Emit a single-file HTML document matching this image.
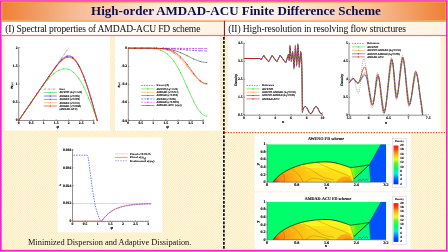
<!DOCTYPE html>
<html><head><meta charset="utf-8"><title>High-order AMDAD-ACU Finite Difference Scheme</title>
<style>
html,body{margin:0;padding:0}
body{width:448px;height:252px;overflow:hidden;position:relative;background:#f224d2;font-family:"Liberation Serif",serif}
.a{position:absolute}
#title{left:0;top:2.2px;width:448px;text-align:center;font-weight:bold;font-size:13px;line-height:17px;color:#0b0f52;white-space:nowrap;text-indent:24px}
.lab{top:21.6px;height:13.6px;font-size:9.6px;letter-spacing:-0.17px;line-height:13.6px;color:#111;white-space:nowrap}
#lab1{left:5.2px;letter-spacing:-0.15px}
#lab2{left:228.2px;letter-spacing:-0.12px}
#cap{left:28px;top:236.6px;font-size:8.36px;line-height:11px;color:#111;white-space:nowrap}
svg{position:absolute;left:0;top:0}
svg text{text-rendering:geometricPrecision}
</style></head><body>
<svg width="448" height="252" viewBox="0 0 448 252">
<defs>
<pattern id="chk" width="2.34" height="2.34" patternUnits="userSpaceOnUse"><rect width="2.34" height="2.34" fill="#fffffa"/><rect width="1.17" height="1.17" fill="#fbe4a2"/><rect x="1.17" y="1.17" width="1.17" height="1.17" fill="#fbe4a2"/></pattern>
<linearGradient id="hg" x1="0" y1="0" x2="1" y2="0"><stop offset="0" stop-color="#ee7f34"/><stop offset="0.16" stop-color="#f7b892"/><stop offset="0.36" stop-color="#fdece2"/><stop offset="0.5" stop-color="#fef7f2"/><stop offset="0.62" stop-color="#fdeee4"/><stop offset="0.82" stop-color="#f8c4a2"/><stop offset="1" stop-color="#ee7f34"/></linearGradient>
<linearGradient id="lg" x1="0" y1="0" x2="1" y2="0"><stop offset="0" stop-color="#fff"/><stop offset="0.4" stop-color="#fff"/><stop offset="1" stop-color="#fef2e2"/></linearGradient>
</defs>
<rect width="448" height="252" fill="#f224d2"/>
<rect x="0" y="0" width="448" height="0.9" fill="#f25ab8"/>
<rect x="0" y="251.2" width="448" height="0.8" fill="#f78ae6"/>
<rect x="447.3" y="0" width="0.7" height="252" fill="#f9a4ee"/>
<rect x="1.8" y="1.9" width="444.1" height="247.7" fill="#fef5da"/>
<rect x="1.8" y="1.9" width="444.1" height="247.7" fill="url(#chk)" opacity="0.9"/>
<rect x="1.8" y="1.9" width="444.1" height="18.9" fill="url(#hg)"/>
<path d="M2.2,20.4V2.3H445.5V20.4" fill="none" stroke="#f0a62a" stroke-width="0.8"/>
<rect x="1.8" y="19.9" width="444.1" height="0.7" fill="#f2b070"/>
<rect x="1.8" y="21.2" width="222.6" height="14.2" fill="url(#lg)"/>
<rect x="224.4" y="21.2" width="221.5" height="14.2" fill="url(#lg)"/>
<rect x="1.8" y="20.9" width="444.1" height="0.7" fill="#ec7848"/>
<rect x="1.8" y="34.9" width="444.1" height="1.5" fill="#f8726a"/>
<rect x="1.8" y="36.4" width="444.1" height="0.9" fill="#fff" opacity="0.8"/>
<rect x="223.9" y="20.8" width="1.1" height="15.6" fill="#ac1010"/>
<rect x="4.9" y="36.4" width="104.9" height="94.2" fill="#fff"/>
<rect x="115" y="36.4" width="105" height="94.2" fill="#fff"/>
<rect x="57.6" y="137.6" width="104.7" height="94.8" fill="#fff"/>
<rect x="228.2" y="36.4" width="212.3" height="95.6" fill="#fff"/>
<rect x="254.5" y="133.4" width="156.2" height="57.9" fill="#fff"/>
<rect x="254.5" y="192.3" width="156.2" height="56.3" fill="#fff"/>
<line x1="223.9" y1="37" x2="223.9" y2="249.6" stroke="#0c0c26" stroke-width="1.7" stroke-dasharray="2.7 1.4"/>
<line x1="225.2" y1="132.7" x2="445" y2="132.7" stroke="#e2504a" stroke-width="1.3" stroke-dasharray="1.3 1.4"/>

<line x1="18.70" y1="47.20" x2="18.70" y2="120.50" stroke="#444" stroke-width="0.6" />
<line x1="18.70" y1="120.50" x2="94.45" y2="120.50" stroke="#444" stroke-width="0.6" />
<line x1="18.70" y1="120.50" x2="19.90" y2="120.50" stroke="#444" stroke-width="0.5" />
<text x="17.50" y="121.40" stroke="#000" stroke-width="0.12" font-size="3.73" text-anchor="end" font-weight="bold" fill="#000" font-family='"Liberation Serif",serif' >0</text>
<line x1="18.70" y1="102.30" x2="19.90" y2="102.30" stroke="#444" stroke-width="0.5" />
<text x="17.50" y="103.20" stroke="#000" stroke-width="0.12" font-size="3.73" text-anchor="end" font-weight="bold" fill="#000" font-family='"Liberation Serif",serif' >0.5</text>
<line x1="18.70" y1="84.10" x2="19.90" y2="84.10" stroke="#444" stroke-width="0.5" />
<text x="17.50" y="85.00" stroke="#000" stroke-width="0.12" font-size="3.73" text-anchor="end" font-weight="bold" fill="#000" font-family='"Liberation Serif",serif' >1</text>
<line x1="18.70" y1="65.90" x2="19.90" y2="65.90" stroke="#444" stroke-width="0.5" />
<text x="17.50" y="66.80" stroke="#000" stroke-width="0.12" font-size="3.73" text-anchor="end" font-weight="bold" fill="#000" font-family='"Liberation Serif",serif' >1.5</text>
<line x1="18.70" y1="47.70" x2="19.90" y2="47.70" stroke="#444" stroke-width="0.5" />
<text x="17.50" y="48.60" stroke="#000" stroke-width="0.12" font-size="3.73" text-anchor="end" font-weight="bold" fill="#000" font-family='"Liberation Serif",serif' >2</text>
<line x1="18.70" y1="120.50" x2="18.70" y2="119.30" stroke="#444" stroke-width="0.5" />
<text x="18.70" y="124.10" stroke="#000" stroke-width="0.12" font-size="3.73" text-anchor="middle" font-weight="bold" fill="#000" font-family='"Liberation Serif",serif' >0</text>
<line x1="31.20" y1="120.50" x2="31.20" y2="119.30" stroke="#444" stroke-width="0.5" />
<text x="31.20" y="124.10" stroke="#000" stroke-width="0.12" font-size="3.73" text-anchor="middle" font-weight="bold" fill="#000" font-family='"Liberation Serif",serif' >0.5</text>
<line x1="43.70" y1="120.50" x2="43.70" y2="119.30" stroke="#444" stroke-width="0.5" />
<text x="43.70" y="124.10" stroke="#000" stroke-width="0.12" font-size="3.73" text-anchor="middle" font-weight="bold" fill="#000" font-family='"Liberation Serif",serif' >1</text>
<line x1="56.20" y1="120.50" x2="56.20" y2="119.30" stroke="#444" stroke-width="0.5" />
<text x="56.20" y="124.10" stroke="#000" stroke-width="0.12" font-size="3.73" text-anchor="middle" font-weight="bold" fill="#000" font-family='"Liberation Serif",serif' >1.5</text>
<line x1="68.70" y1="120.50" x2="68.70" y2="119.30" stroke="#444" stroke-width="0.5" />
<text x="68.70" y="124.10" stroke="#000" stroke-width="0.12" font-size="3.73" text-anchor="middle" font-weight="bold" fill="#000" font-family='"Liberation Serif",serif' >2</text>
<line x1="81.20" y1="120.50" x2="81.20" y2="119.30" stroke="#444" stroke-width="0.5" />
<text x="81.20" y="124.10" stroke="#000" stroke-width="0.12" font-size="3.73" text-anchor="middle" font-weight="bold" fill="#000" font-family='"Liberation Serif",serif' >2.5</text>
<line x1="93.70" y1="120.50" x2="93.70" y2="119.30" stroke="#444" stroke-width="0.5" />
<text x="93.70" y="124.10" stroke="#000" stroke-width="0.12" font-size="3.73" text-anchor="middle" font-weight="bold" fill="#000" font-family='"Liberation Serif",serif' >3</text>
<text x="57.80" y="127.60" stroke="#000" stroke-width="0.12" font-size="4.42" text-anchor="middle" font-weight="bold" fill="#000" font-family='"Liberation Serif",serif' font-style="italic">φ</text>
<text x="13.20" y="85.50" stroke="#000" stroke-width="0.02" font-size="3.0" text-anchor="middle" font-weight="bold" fill="#000" font-family='"Liberation Serif",serif' transform="rotate(-90 13.2 85.5)">ℜ(φ)</text>
<path d="M18.70,120.50 L68.70,47.70" fill="none" stroke="#333" stroke-width="0.48" stroke-dasharray="2.2 0.8 0.6 0.8"/>
<path d="M18.70,120.50 L19.69,119.06 L20.69,117.62 L21.68,116.18 L22.68,114.73 L23.67,113.29 L24.67,111.84 L25.66,110.39 L26.65,108.94 L27.65,107.48 L28.64,106.03 L29.64,104.57 L30.63,103.11 L31.62,101.66 L32.62,100.20 L33.61,98.75 L34.61,97.31 L35.60,95.87 L36.60,94.44 L37.59,93.02 L38.58,91.62 L39.58,90.23 L40.57,88.86 L41.57,87.51 L42.56,86.19 L43.55,84.89 L44.55,83.62 L45.54,82.39 L46.54,81.19 L47.53,80.03 L48.53,78.91 L49.52,77.83 L50.51,76.80 L51.51,75.82 L52.50,74.89 L53.50,74.02 L54.49,73.21 L55.48,72.45 L56.48,71.76 L57.47,71.13 L58.47,70.58 L59.46,70.09 L60.46,69.68 L61.45,69.34 L62.44,69.09 L63.44,68.91 L64.43,68.82 L65.43,68.82 L66.42,68.91 L67.41,69.09 L68.41,69.37 L69.40,69.75 L70.40,70.22 L71.39,70.80 L72.39,71.48 L73.38,72.28 L74.37,73.17 L75.37,74.18 L76.36,75.30 L77.36,76.53 L78.35,77.88 L79.34,79.33 L80.34,80.89 L81.33,82.56 L82.33,84.34 L83.32,86.22 L84.32,88.19 L85.31,90.27 L86.30,92.44 L87.30,94.69 L88.29,97.03 L89.29,99.44 L90.28,101.92 L91.27,104.46 L92.27,107.05 L93.26,109.68 L94.26,112.36 L95.25,115.05 L96.25,117.77 L97.24,120.50" fill="none" stroke="#22dd22" stroke-width="0.64" />
<circle cx="23.70" cy="113.25" r="0.5" fill="#22dd22"/>
<circle cx="28.70" cy="105.94" r="0.5" fill="#22dd22"/>
<circle cx="33.70" cy="98.63" r="0.5" fill="#22dd22"/>
<circle cx="38.70" cy="91.45" r="0.5" fill="#22dd22"/>
<circle cx="43.70" cy="84.70" r="0.5" fill="#22dd22"/>
<circle cx="48.70" cy="78.71" r="0.5" fill="#22dd22"/>
<circle cx="53.70" cy="73.85" r="0.5" fill="#22dd22"/>
<circle cx="58.70" cy="70.46" r="0.5" fill="#22dd22"/>
<circle cx="63.70" cy="68.88" r="0.5" fill="#22dd22"/>
<circle cx="68.70" cy="69.47" r="0.5" fill="#22dd22"/>
<circle cx="73.70" cy="72.55" r="0.5" fill="#22dd22"/>
<circle cx="78.70" cy="78.37" r="0.5" fill="#22dd22"/>
<circle cx="83.70" cy="86.96" r="0.5" fill="#22dd22"/>
<circle cx="88.70" cy="98.01" r="0.5" fill="#22dd22"/>
<circle cx="93.70" cy="110.85" r="0.5" fill="#22dd22"/>
<path d="M18.70,120.50 L19.69,119.05 L20.69,117.61 L21.68,116.16 L22.68,114.71 L23.67,113.26 L24.67,111.82 L25.66,110.37 L26.65,108.92 L27.65,107.47 L28.64,106.02 L29.64,104.58 L30.63,103.13 L31.62,101.68 L32.62,100.23 L33.61,98.79 L34.61,97.34 L35.60,95.89 L36.60,94.44 L37.59,93.00 L38.58,91.55 L39.58,90.10 L40.57,88.66 L41.57,87.21 L42.56,85.76 L43.55,84.30 L44.55,82.85 L45.54,81.40 L46.54,79.94 L47.53,78.49 L48.53,77.04 L49.52,75.59 L50.51,74.14 L51.51,72.70 L52.50,71.28 L53.50,69.86 L54.49,68.47 L55.48,67.10 L56.48,65.77 L57.47,64.47 L58.47,63.22 L59.46,62.04 L60.46,60.92 L61.45,59.88 L62.44,58.93 L63.44,58.09 L64.43,57.37 L65.43,56.78 L66.42,56.33 L67.41,56.03 L68.41,55.90 L69.40,55.93 L70.40,56.15 L71.39,56.54 L72.39,57.12 L73.38,57.89 L74.37,58.85 L75.37,59.99 L76.36,61.32 L77.36,62.83 L78.35,64.51 L79.34,66.37 L80.34,68.39 L81.33,70.57 L82.33,72.90 L83.32,75.38 L84.32,78.00 L85.31,80.74 L86.30,83.61 L87.30,86.59 L88.29,89.68 L89.29,92.86 L90.28,96.13 L91.27,99.47 L92.27,102.87 L93.26,106.33 L94.26,109.84 L95.25,113.37 L96.25,116.93 L97.24,120.50" fill="none" stroke="#2222ee" stroke-width="0.72" />
<circle cx="56.20" cy="66.14" r="0.6" fill="#2222ee"/>
<circle cx="61.70" cy="59.63" r="0.6" fill="#2222ee"/>
<circle cx="67.20" cy="56.08" r="0.6" fill="#2222ee"/>
<circle cx="72.70" cy="57.35" r="0.6" fill="#2222ee"/>
<circle cx="78.20" cy="64.25" r="0.6" fill="#2222ee"/>
<circle cx="83.70" cy="76.36" r="0.6" fill="#2222ee"/>
<path d="M18.70,120.86 L19.69,119.42 L20.69,117.97 L21.68,116.52 L22.68,115.08 L23.67,113.63 L24.67,112.18 L25.66,110.73 L26.65,109.28 L27.65,107.84 L28.64,106.39 L29.64,104.94 L30.63,103.49 L31.62,102.04 L32.62,100.60 L33.61,99.15 L34.61,97.70 L35.60,96.26 L36.60,94.81 L37.59,93.36 L38.58,91.92 L39.58,90.47 L40.57,89.02 L41.57,87.57 L42.56,86.12 L43.55,84.68 L44.55,83.23 L45.54,81.78 L46.54,80.33 L47.53,78.88 L48.53,77.44 L49.52,76.01 L50.51,74.58 L51.51,73.17 L52.50,71.78 L53.50,70.40 L54.49,69.06 L55.48,67.74 L56.48,66.47 L57.47,65.24 L58.47,64.07 L59.46,62.96 L60.46,61.92 L61.45,60.96 L62.44,60.10 L63.44,59.33 L64.43,58.68 L65.43,58.15 L66.42,57.74 L67.41,57.47 L68.41,57.35 L69.40,57.39 L70.40,57.58 L71.39,57.94 L72.39,58.47 L73.38,59.18 L74.37,60.06 L75.37,61.13 L76.36,62.37 L77.36,63.80 L78.35,65.40 L79.34,67.18 L80.34,69.13 L81.33,71.24 L82.33,73.52 L83.32,75.94 L84.32,78.52 L85.31,81.23 L86.30,84.07 L87.30,87.03 L88.29,90.10 L89.29,93.26 L90.28,96.52 L91.27,99.85 L92.27,103.25 L93.26,106.71 L94.26,110.21 L95.25,113.74 L96.25,117.30 L97.24,120.86" fill="none" stroke="#ff9922" stroke-width="0.64" />
<path d="M18.70,120.50 L19.69,119.05 L20.69,117.61 L21.68,116.16 L22.68,114.71 L23.67,113.26 L24.67,111.82 L25.66,110.37 L26.65,108.92 L27.65,107.47 L28.64,106.02 L29.64,104.58 L30.63,103.13 L31.62,101.68 L32.62,100.23 L33.61,98.79 L34.61,97.34 L35.60,95.89 L36.60,94.45 L37.59,93.00 L38.58,91.55 L39.58,90.10 L40.57,88.66 L41.57,87.21 L42.56,85.76 L43.55,84.31 L44.55,82.86 L45.54,81.41 L46.54,79.97 L47.53,78.52 L48.53,77.08 L49.52,75.65 L50.51,74.22 L51.51,72.81 L52.50,71.41 L53.50,70.04 L54.49,68.69 L55.48,67.38 L56.48,66.10 L57.47,64.87 L58.47,63.70 L59.46,62.59 L60.46,61.55 L61.45,60.60 L62.44,59.73 L63.44,58.97 L64.43,58.32 L65.43,57.78 L66.42,57.38 L67.41,57.11 L68.41,56.99 L69.40,57.02 L70.40,57.21 L71.39,57.57 L72.39,58.11 L73.38,58.81 L74.37,59.70 L75.37,60.76 L76.36,62.01 L77.36,63.43 L78.35,65.04 L79.34,66.81 L80.34,68.76 L81.33,70.88 L82.33,73.15 L83.32,75.58 L84.32,78.15 L85.31,80.87 L86.30,83.71 L87.30,86.66 L88.29,89.73 L89.29,92.90 L90.28,96.15 L91.27,99.49 L92.27,102.89 L93.26,106.34 L94.26,109.84 L95.25,113.38 L96.25,116.93 L97.24,120.50" fill="none" stroke="#dd1111" stroke-width="0.64" />
<circle cx="18.70" cy="120.50" r="0.55" fill="#cc1111"/>
<circle cx="24.74" cy="111.71" r="0.55" fill="#cc1111"/>
<circle cx="30.78" cy="102.91" r="0.55" fill="#cc1111"/>
<circle cx="36.82" cy="94.12" r="0.55" fill="#cc1111"/>
<circle cx="42.85" cy="85.33" r="0.55" fill="#cc1111"/>
<circle cx="48.89" cy="76.55" r="0.55" fill="#cc1111"/>
<circle cx="54.93" cy="68.10" r="0.55" fill="#cc1111"/>
<circle cx="60.97" cy="61.05" r="0.55" fill="#cc1111"/>
<circle cx="67.01" cy="57.20" r="0.55" fill="#cc1111"/>
<circle cx="73.05" cy="58.56" r="0.55" fill="#cc1111"/>
<circle cx="79.08" cy="66.33" r="0.55" fill="#cc1111"/>
<circle cx="85.12" cy="80.35" r="0.55" fill="#cc1111"/>
<circle cx="91.16" cy="99.10" r="0.55" fill="#cc1111"/>
<circle cx="97.20" cy="120.36" r="0.55" fill="#cc1111"/>
<line x1="43.75" y1="89.10" x2="56.90" y2="89.10" stroke="#555" stroke-width="0.55" stroke-dasharray="2.2 0.8 0.6 0.8"/>
<text x="59.40" y="90.00" stroke="#000" stroke-width="0.05" font-size="2.85" text-anchor="start" font-weight="bold" fill="#000" font-family='"Liberation Serif",serif'  textLength="5.6" lengthAdjust="spacingAndGlyphs">Exact</text>
<line x1="43.75" y1="92.50" x2="56.90" y2="92.50" stroke="#22dd22" stroke-width="0.55" />
<circle cx="50.30" cy="92.50" r="0.6" fill="#22dd22"/>
<text x="59.40" y="93.40" stroke="#000" stroke-width="0.05" font-size="2.85" text-anchor="start" font-weight="bold" fill="#000" font-family='"Liberation Serif",serif'  textLength="22.8" lengthAdjust="spacingAndGlyphs">AWENO (kq=1.528)</text>
<line x1="43.75" y1="96.00" x2="56.90" y2="96.00" stroke="#2222ee" stroke-width="0.55" />
<circle cx="50.30" cy="96.00" r="0.6" fill="#2222ee"/>
<text x="59.40" y="96.90" stroke="#000" stroke-width="0.05" font-size="2.85" text-anchor="start" font-weight="bold" fill="#000" font-family='"Liberation Serif",serif'  textLength="20.6" lengthAdjust="spacingAndGlyphs">AMDAD (ε=0.005)</text>
<line x1="43.75" y1="99.40" x2="56.90" y2="99.40" stroke="#555" stroke-width="0.55" />
<circle cx="50.30" cy="99.40" r="0.6" fill="#555"/>
<text x="59.40" y="100.30" stroke="#000" stroke-width="0.05" font-size="2.85" text-anchor="start" font-weight="bold" fill="#000" font-family='"Liberation Serif",serif'  textLength="20.6" lengthAdjust="spacingAndGlyphs">AMDAD (ε=0.008)</text>
<line x1="43.75" y1="102.70" x2="56.90" y2="102.70" stroke="#ff9922" stroke-width="0.55" />
<circle cx="50.30" cy="102.70" r="0.6" fill="#ff9922"/>
<text x="59.40" y="103.60" stroke="#000" stroke-width="0.05" font-size="2.85" text-anchor="start" font-weight="bold" fill="#000" font-family='"Liberation Serif",serif'  textLength="20.6" lengthAdjust="spacingAndGlyphs">AMDAD (ε=0.012)</text>
<line x1="43.75" y1="106.00" x2="56.90" y2="106.00" stroke="#dd1111" stroke-width="0.55" />
<circle cx="50.30" cy="106.00" r="0.6" fill="#dd1111"/>
<text x="59.40" y="106.90" stroke="#000" stroke-width="0.05" font-size="2.85" text-anchor="start" font-weight="bold" fill="#000" font-family='"Liberation Serif",serif'  textLength="21.8" lengthAdjust="spacingAndGlyphs">AMDAD (ε=0.0048)</text>
<text x="59.40" y="110.00" stroke="#000" stroke-width="0.05" font-size="2.85" text-anchor="start" font-weight="bold" fill="#000" font-family='"Liberation Serif",serif'  textLength="18" lengthAdjust="spacingAndGlyphs">(AMDAD-ACU)</text>
<line x1="128.30" y1="47.50" x2="128.30" y2="120.50" stroke="#444" stroke-width="0.6" />
<line x1="128.30" y1="120.50" x2="204.05" y2="120.50" stroke="#444" stroke-width="0.6" />
<line x1="128.30" y1="48.20" x2="129.50" y2="48.20" stroke="#444" stroke-width="0.5" />
<text x="127.10" y="49.10" stroke="#000" stroke-width="0.12" font-size="3.73" text-anchor="end" font-weight="bold" fill="#000" font-family='"Liberation Serif",serif' >0</text>
<line x1="128.30" y1="66.30" x2="129.50" y2="66.30" stroke="#444" stroke-width="0.5" />
<text x="127.10" y="67.20" stroke="#000" stroke-width="0.12" font-size="3.73" text-anchor="end" font-weight="bold" fill="#000" font-family='"Liberation Serif",serif' >-0.2</text>
<line x1="128.30" y1="84.40" x2="129.50" y2="84.40" stroke="#444" stroke-width="0.5" />
<text x="127.10" y="85.30" stroke="#000" stroke-width="0.12" font-size="3.73" text-anchor="end" font-weight="bold" fill="#000" font-family='"Liberation Serif",serif' >-0.4</text>
<line x1="128.30" y1="102.50" x2="129.50" y2="102.50" stroke="#444" stroke-width="0.5" />
<text x="127.10" y="103.40" stroke="#000" stroke-width="0.12" font-size="3.73" text-anchor="end" font-weight="bold" fill="#000" font-family='"Liberation Serif",serif' >-0.6</text>
<line x1="128.30" y1="120.60" x2="129.50" y2="120.60" stroke="#444" stroke-width="0.5" />
<text x="127.10" y="121.50" stroke="#000" stroke-width="0.12" font-size="3.73" text-anchor="end" font-weight="bold" fill="#000" font-family='"Liberation Serif",serif' >-0.8</text>
<line x1="128.30" y1="120.50" x2="128.30" y2="119.30" stroke="#444" stroke-width="0.5" />
<text x="128.30" y="124.10" stroke="#000" stroke-width="0.12" font-size="3.73" text-anchor="middle" font-weight="bold" fill="#000" font-family='"Liberation Serif",serif' >0</text>
<line x1="140.80" y1="120.50" x2="140.80" y2="119.30" stroke="#444" stroke-width="0.5" />
<text x="140.80" y="124.10" stroke="#000" stroke-width="0.12" font-size="3.73" text-anchor="middle" font-weight="bold" fill="#000" font-family='"Liberation Serif",serif' >0.5</text>
<line x1="153.30" y1="120.50" x2="153.30" y2="119.30" stroke="#444" stroke-width="0.5" />
<text x="153.30" y="124.10" stroke="#000" stroke-width="0.12" font-size="3.73" text-anchor="middle" font-weight="bold" fill="#000" font-family='"Liberation Serif",serif' >1</text>
<line x1="165.80" y1="120.50" x2="165.80" y2="119.30" stroke="#444" stroke-width="0.5" />
<text x="165.80" y="124.10" stroke="#000" stroke-width="0.12" font-size="3.73" text-anchor="middle" font-weight="bold" fill="#000" font-family='"Liberation Serif",serif' >1.5</text>
<line x1="178.30" y1="120.50" x2="178.30" y2="119.30" stroke="#444" stroke-width="0.5" />
<text x="178.30" y="124.10" stroke="#000" stroke-width="0.12" font-size="3.73" text-anchor="middle" font-weight="bold" fill="#000" font-family='"Liberation Serif",serif' >2</text>
<line x1="190.80" y1="120.50" x2="190.80" y2="119.30" stroke="#444" stroke-width="0.5" />
<text x="190.80" y="124.10" stroke="#000" stroke-width="0.12" font-size="3.73" text-anchor="middle" font-weight="bold" fill="#000" font-family='"Liberation Serif",serif' >2.5</text>
<line x1="203.30" y1="120.50" x2="203.30" y2="119.30" stroke="#444" stroke-width="0.5" />
<text x="203.30" y="124.10" stroke="#000" stroke-width="0.12" font-size="3.73" text-anchor="middle" font-weight="bold" fill="#000" font-family='"Liberation Serif",serif' >3</text>
<text x="167.60" y="127.60" stroke="#000" stroke-width="0.12" font-size="4.42" text-anchor="middle" font-weight="bold" fill="#000" font-family='"Liberation Serif",serif' font-style="italic">φ</text>
<text x="120.00" y="84.80" stroke="#000" stroke-width="0.02" font-size="3.0" text-anchor="middle" font-weight="bold" fill="#000" font-family='"Liberation Serif",serif' transform="rotate(-90 120 84.8)">ℑ(φ)</text>
<path d="M128.30,48.20 L158.30,48.20" fill="none" stroke="#222" stroke-width="0.48" stroke-dasharray="1.5 1"/>
<path d="M128.30,48.20 L129.29,48.20 L130.29,48.20 L131.28,48.20 L132.28,48.20 L133.27,48.20 L134.27,48.20 L135.26,48.20 L136.25,48.20 L137.25,48.20 L138.24,48.20 L139.24,48.20 L140.23,48.20 L141.22,48.20 L142.22,48.21 L143.21,48.21 L144.21,48.22 L145.20,48.23 L146.20,48.24 L147.19,48.26 L148.18,48.29 L149.18,48.32 L150.17,48.37 L151.17,48.42 L152.16,48.49 L153.15,48.58 L154.15,48.69 L155.14,48.82 L156.14,48.98 L157.13,49.17 L158.13,49.40 L159.12,49.66 L160.11,49.98 L161.11,50.33 L162.10,50.75 L163.10,51.22 L164.09,51.76 L165.08,52.36 L166.08,53.04 L167.07,53.79 L168.07,54.63 L169.06,55.55 L170.06,56.56 L171.05,57.65 L172.04,58.84 L173.04,60.13 L174.03,61.51 L175.03,62.98 L176.02,64.55 L177.01,66.20 L178.01,67.95 L179.00,69.78 L180.00,71.69 L180.99,73.67 L181.99,75.71 L182.98,77.82 L183.97,79.97 L184.97,82.17 L185.96,84.39 L186.96,86.63 L187.95,88.88 L188.94,91.12 L189.94,93.35 L190.93,95.54 L191.93,97.68 L192.92,99.77 L193.92,101.78 L194.91,103.71 L195.90,105.53 L196.90,107.25 L197.89,108.84 L198.89,110.30 L199.88,111.61 L200.87,112.77 L201.87,113.76 L202.86,114.59 L203.86,115.23 L204.85,115.70 L205.85,115.98 L206.84,116.08" fill="none" stroke="#22dd22" stroke-width="0.64" />
<circle cx="134.55" cy="48.20" r="0.5" fill="#22dd22"/>
<circle cx="141.12" cy="48.20" r="0.5" fill="#22dd22"/>
<circle cx="147.69" cy="48.27" r="0.5" fill="#22dd22"/>
<circle cx="154.25" cy="48.70" r="0.5" fill="#22dd22"/>
<circle cx="160.82" cy="50.23" r="0.5" fill="#22dd22"/>
<circle cx="167.39" cy="54.05" r="0.5" fill="#22dd22"/>
<circle cx="173.96" cy="61.40" r="0.5" fill="#22dd22"/>
<circle cx="180.53" cy="72.73" r="0.5" fill="#22dd22"/>
<circle cx="187.10" cy="86.95" r="0.5" fill="#22dd22"/>
<circle cx="193.66" cy="101.28" r="0.5" fill="#22dd22"/>
<circle cx="200.23" cy="112.04" r="0.5" fill="#22dd22"/>
<circle cx="206.80" cy="116.07" r="0.5" fill="#22dd22"/>
<path d="M128.30,48.20 L129.29,48.20 L130.29,48.20 L131.28,48.20 L132.28,48.20 L133.27,48.20 L134.27,48.20 L135.26,48.20 L136.25,48.20 L137.25,48.20 L138.24,48.20 L139.24,48.20 L140.23,48.20 L141.22,48.20 L142.22,48.20 L143.21,48.20 L144.21,48.20 L145.20,48.20 L146.20,48.21 L147.19,48.21 L148.18,48.21 L149.18,48.22 L150.17,48.23 L151.17,48.24 L152.16,48.25 L153.15,48.27 L154.15,48.30 L155.14,48.33 L156.14,48.37 L157.13,48.42 L158.13,48.48 L159.12,48.56 L160.11,48.65 L161.11,48.76 L162.10,48.89 L163.10,49.05 L164.09,49.23 L165.08,49.45 L166.08,49.69 L167.07,49.98 L168.07,50.30 L169.06,50.67 L170.06,51.08 L171.05,51.54 L172.04,52.05 L173.04,52.61 L174.03,53.23 L175.03,53.91 L176.02,54.64 L177.01,55.43 L178.01,56.28 L179.00,57.19 L180.00,58.15 L180.99,59.17 L181.99,60.23 L182.98,61.35 L183.97,62.50 L184.97,63.70 L185.96,64.92 L186.96,66.17 L187.95,67.44 L188.94,68.72 L189.94,70.00 L190.93,71.28 L191.93,72.54 L192.92,73.78 L193.92,74.98 L194.91,76.14 L195.90,77.25 L196.90,78.29 L197.89,79.27 L198.89,80.17 L199.88,80.98 L200.87,81.70 L201.87,82.32 L202.86,82.83 L203.86,83.24 L204.85,83.53 L205.85,83.71 L206.84,83.77" fill="none" stroke="#ff9922" stroke-width="0.64" />
<circle cx="134.55" cy="48.20" r="0.5" fill="#ff9922"/>
<circle cx="141.12" cy="48.20" r="0.5" fill="#ff9922"/>
<circle cx="147.69" cy="48.21" r="0.5" fill="#ff9922"/>
<circle cx="154.25" cy="48.30" r="0.5" fill="#ff9922"/>
<circle cx="160.82" cy="48.73" r="0.5" fill="#ff9922"/>
<circle cx="167.39" cy="50.08" r="0.5" fill="#ff9922"/>
<circle cx="173.96" cy="53.19" r="0.5" fill="#ff9922"/>
<circle cx="180.53" cy="58.69" r="0.5" fill="#ff9922"/>
<circle cx="187.10" cy="66.35" r="0.5" fill="#ff9922"/>
<circle cx="193.66" cy="74.68" r="0.5" fill="#ff9922"/>
<circle cx="200.23" cy="81.24" r="0.5" fill="#ff9922"/>
<circle cx="206.80" cy="83.77" r="0.5" fill="#ff9922"/>
<path d="M128.30,48.20 L129.29,48.20 L130.29,48.20 L131.28,48.20 L132.28,48.20 L133.27,48.20 L134.27,48.20 L135.26,48.20 L136.25,48.20 L137.25,48.20 L138.24,48.20 L139.24,48.20 L140.23,48.20 L141.22,48.20 L142.22,48.20 L143.21,48.20 L144.21,48.20 L145.20,48.20 L146.20,48.20 L147.19,48.20 L148.18,48.21 L149.18,48.21 L150.17,48.21 L151.17,48.22 L152.16,48.23 L153.15,48.24 L154.15,48.25 L155.14,48.27 L156.14,48.29 L157.13,48.31 L158.13,48.34 L159.12,48.38 L160.11,48.42 L161.11,48.47 L162.10,48.53 L163.10,48.61 L164.09,48.69 L165.08,48.78 L166.08,48.89 L167.07,49.02 L168.07,49.16 L169.06,49.32 L170.06,49.50 L171.05,49.69 L172.04,49.91 L173.04,50.15 L174.03,50.41 L175.03,50.69 L176.02,50.99 L177.01,51.32 L178.01,51.67 L179.00,52.03 L180.00,52.42 L180.99,52.83 L181.99,53.26 L182.98,53.71 L183.97,54.17 L184.97,54.64 L185.96,55.13 L186.96,55.62 L187.95,56.12 L188.94,56.62 L189.94,57.12 L190.93,57.61 L191.93,58.10 L192.92,58.58 L193.92,59.04 L194.91,59.49 L195.90,59.92 L196.90,60.32 L197.89,60.69 L198.89,61.04 L199.88,61.35 L200.87,61.62 L201.87,61.86 L202.86,62.05 L203.86,62.21 L204.85,62.32 L205.85,62.39 L206.84,62.41" fill="none" stroke="#555" stroke-width="0.64" />
<circle cx="134.55" cy="48.20" r="0.5" fill="#555"/>
<circle cx="141.12" cy="48.20" r="0.5" fill="#555"/>
<circle cx="147.69" cy="48.21" r="0.5" fill="#555"/>
<circle cx="154.25" cy="48.25" r="0.5" fill="#555"/>
<circle cx="160.82" cy="48.46" r="0.5" fill="#555"/>
<circle cx="167.39" cy="49.06" r="0.5" fill="#555"/>
<circle cx="173.96" cy="50.39" r="0.5" fill="#555"/>
<circle cx="180.53" cy="52.64" r="0.5" fill="#555"/>
<circle cx="187.10" cy="55.69" r="0.5" fill="#555"/>
<circle cx="193.66" cy="58.93" r="0.5" fill="#555"/>
<circle cx="200.23" cy="61.45" r="0.5" fill="#555"/>
<circle cx="206.80" cy="62.41" r="0.5" fill="#555"/>
<path d="M162.10,48.36 L163.10,48.39 L164.09,48.42 L165.08,48.45 L166.08,48.48 L167.07,48.52 L168.07,48.56 L169.06,48.60 L170.06,48.65 L171.05,48.70 L172.04,48.75 L173.04,48.81 L174.03,48.87 L175.03,48.94 L176.02,49.00 L177.01,49.07 L178.01,49.14 L179.00,49.22 L180.00,49.29 L180.99,49.37 L181.99,49.45 L182.98,49.53 L183.97,49.62 L184.97,49.70 L185.96,49.78 L186.96,49.87 L187.95,49.95 L188.94,50.03 L189.94,50.11 L190.93,50.19 L191.93,50.27 L192.92,50.35 L193.92,50.42 L194.91,50.48 L195.90,50.55 L196.90,50.61 L197.89,50.67 L198.89,50.72 L199.88,50.76 L200.87,50.80 L201.87,50.84 L202.86,50.86 L203.86,50.89 L204.85,50.90 L205.85,50.91 L206.84,50.92" fill="none" stroke="#3333ff" stroke-width="0.64" stroke-dasharray="2 1"/>
<circle cx="167.39" cy="48.53" r="0.5" fill="#3333ff"/>
<circle cx="173.96" cy="48.87" r="0.5" fill="#3333ff"/>
<circle cx="180.53" cy="49.33" r="0.5" fill="#3333ff"/>
<circle cx="187.10" cy="49.88" r="0.5" fill="#3333ff"/>
<circle cx="193.66" cy="50.40" r="0.5" fill="#3333ff"/>
<circle cx="200.23" cy="50.78" r="0.5" fill="#3333ff"/>
<circle cx="206.80" cy="50.91" r="0.5" fill="#3333ff"/>
<path d="M162.10,48.22 L163.10,48.23 L164.09,48.23 L165.08,48.23 L166.08,48.24 L167.07,48.24 L168.07,48.25 L169.06,48.25 L170.06,48.26 L171.05,48.27 L172.04,48.27 L173.04,48.28 L174.03,48.29 L175.03,48.30 L176.02,48.31 L177.01,48.32 L178.01,48.33 L179.00,48.34 L180.00,48.35 L180.99,48.36 L181.99,48.37 L182.98,48.38 L183.97,48.39 L184.97,48.40 L185.96,48.41 L186.96,48.42 L187.95,48.43 L188.94,48.44 L189.94,48.46 L190.93,48.47 L191.93,48.48 L192.92,48.49 L193.92,48.50 L194.91,48.50 L195.90,48.51 L196.90,48.52 L197.89,48.53 L198.89,48.54 L199.88,48.54 L200.87,48.55 L201.87,48.55 L202.86,48.56 L203.86,48.56 L204.85,48.56 L205.85,48.56 L206.84,48.56" fill="none" stroke="#ee11ee" stroke-width="0.64" stroke-dasharray="2 1"/>
<circle cx="167.39" cy="48.24" r="0.5" fill="#ee11ee"/>
<circle cx="173.96" cy="48.29" r="0.5" fill="#ee11ee"/>
<circle cx="180.53" cy="48.35" r="0.5" fill="#ee11ee"/>
<circle cx="187.10" cy="48.42" r="0.5" fill="#ee11ee"/>
<circle cx="193.66" cy="48.49" r="0.5" fill="#ee11ee"/>
<circle cx="200.23" cy="48.54" r="0.5" fill="#ee11ee"/>
<circle cx="206.80" cy="48.56" r="0.5" fill="#ee11ee"/>
<path d="M128.30,48.20 L129.29,48.20 L130.29,48.20 L131.28,48.20 L132.28,48.20 L133.27,48.20 L134.27,48.20 L135.26,48.20 L136.25,48.20 L137.25,48.20 L138.24,48.20 L139.24,48.20 L140.23,48.20 L141.22,48.20 L142.22,48.20 L143.21,48.20 L144.21,48.20 L145.20,48.20 L146.20,48.20 L147.19,48.20 L148.18,48.20 L149.18,48.21 L150.17,48.21 L151.17,48.21 L152.16,48.22 L153.15,48.23 L154.15,48.24 L155.14,48.25 L156.14,48.27 L157.13,48.30 L158.13,48.33 L159.12,48.37 L160.11,48.43 L161.11,48.49 L162.10,48.58 L163.10,48.68 L164.09,48.80 L165.08,48.94 L166.08,49.12 L167.07,49.32 L168.07,49.56 L169.06,49.83 L170.06,50.15 L171.05,50.52 L172.04,50.93 L173.04,51.40 L174.03,51.92 L175.03,52.50 L176.02,53.15 L177.01,53.85 L178.01,54.63 L179.00,55.47 L180.00,56.37 L180.99,57.34 L181.99,58.38 L182.98,59.47 L183.97,60.62 L184.97,61.83 L185.96,63.08 L186.96,64.37 L187.95,65.70 L188.94,67.05 L189.94,68.41 L190.93,69.79 L191.93,71.15 L192.92,72.50 L193.92,73.83 L194.91,75.11 L195.90,76.35 L196.90,77.52 L197.89,78.62 L198.89,79.64 L199.88,80.57 L200.87,81.39 L201.87,82.10 L202.86,82.69 L203.86,83.16 L204.85,83.49 L205.85,83.70 L206.84,83.77" fill="none" stroke="#dd1111" stroke-width="0.64" />
<circle cx="134.55" cy="48.20" r="0.5" fill="#dd1111"/>
<circle cx="141.12" cy="48.20" r="0.5" fill="#dd1111"/>
<circle cx="147.69" cy="48.20" r="0.5" fill="#dd1111"/>
<circle cx="154.25" cy="48.24" r="0.5" fill="#dd1111"/>
<circle cx="160.82" cy="48.47" r="0.5" fill="#dd1111"/>
<circle cx="167.39" cy="49.39" r="0.5" fill="#dd1111"/>
<circle cx="173.96" cy="51.88" r="0.5" fill="#dd1111"/>
<circle cx="180.53" cy="56.88" r="0.5" fill="#dd1111"/>
<circle cx="187.10" cy="64.56" r="0.5" fill="#dd1111"/>
<circle cx="193.66" cy="73.50" r="0.5" fill="#dd1111"/>
<circle cx="200.23" cy="80.87" r="0.5" fill="#dd1111"/>
<circle cx="206.80" cy="83.77" r="0.5" fill="#dd1111"/>
<circle cx="128.30" cy="48.20" r="0.6" fill="#dd1111"/>
<circle cx="135.30" cy="48.20" r="0.6" fill="#dd1111"/>
<circle cx="142.30" cy="48.20" r="0.6" fill="#dd1111"/>
<circle cx="149.30" cy="48.20" r="0.6" fill="#dd1111"/>
<circle cx="156.30" cy="48.20" r="0.6" fill="#dd1111"/>
<circle cx="163.30" cy="48.20" r="0.6" fill="#dd1111"/>
<line x1="141.25" y1="85.40" x2="154.50" y2="85.40" stroke="#222" stroke-width="0.55" stroke-dasharray="1.5 1"/>
<text x="156.60" y="86.30" stroke="#000" stroke-width="0.05" font-size="2.85" text-anchor="start" font-weight="bold" fill="#000" font-family='"Liberation Serif",serif'  textLength="12.5" lengthAdjust="spacingAndGlyphs">Exact (0)</text>
<line x1="141.25" y1="88.90" x2="154.50" y2="88.90" stroke="#22dd22" stroke-width="0.55" />
<circle cx="147.80" cy="88.90" r="0.6" fill="#22dd22"/>
<text x="156.60" y="89.80" stroke="#000" stroke-width="0.05" font-size="2.85" text-anchor="start" font-weight="bold" fill="#000" font-family='"Liberation Serif",serif'  textLength="21.3" lengthAdjust="spacingAndGlyphs">AWENO (kq=1.528)</text>
<line x1="141.25" y1="92.25" x2="154.50" y2="92.25" stroke="#ff9922" stroke-width="0.55" />
<circle cx="147.80" cy="92.25" r="0.6" fill="#ff9922"/>
<text x="156.60" y="93.15" stroke="#000" stroke-width="0.05" font-size="2.85" text-anchor="start" font-weight="bold" fill="#000" font-family='"Liberation Serif",serif'  textLength="21.9" lengthAdjust="spacingAndGlyphs">AMDAD (ε=0.012)</text>
<line x1="141.25" y1="95.50" x2="154.50" y2="95.50" stroke="#555" stroke-width="0.55" />
<circle cx="147.80" cy="95.50" r="0.6" fill="#555"/>
<text x="156.60" y="96.40" stroke="#000" stroke-width="0.05" font-size="2.85" text-anchor="start" font-weight="bold" fill="#000" font-family='"Liberation Serif",serif'  textLength="21.3" lengthAdjust="spacingAndGlyphs">AMDAD (ε=0.008)</text>
<line x1="141.25" y1="98.90" x2="154.50" y2="98.90" stroke="#3333ff" stroke-width="0.55" stroke-dasharray="2 1"/>
<circle cx="147.80" cy="98.90" r="0.6" fill="#3333ff"/>
<text x="156.60" y="99.80" stroke="#000" stroke-width="0.05" font-size="2.85" text-anchor="start" font-weight="bold" fill="#000" font-family='"Liberation Serif",serif'  textLength="19.4" lengthAdjust="spacingAndGlyphs">AMDAD (ε=0.005)</text>
<line x1="141.25" y1="102.25" x2="154.50" y2="102.25" stroke="#ee11ee" stroke-width="0.55" stroke-dasharray="2 1"/>
<circle cx="147.80" cy="102.25" r="0.6" fill="#ee11ee"/>
<text x="156.60" y="103.15" stroke="#000" stroke-width="0.05" font-size="2.85" text-anchor="start" font-weight="bold" fill="#000" font-family='"Liberation Serif",serif'  textLength="22.5" lengthAdjust="spacingAndGlyphs">AMDAD (ε=0.0005)</text>
<line x1="141.25" y1="105.50" x2="154.50" y2="105.50" stroke="#dd1111" stroke-width="0.55" />
<circle cx="147.80" cy="105.50" r="0.6" fill="#dd1111"/>
<text x="156.60" y="106.40" stroke="#000" stroke-width="0.05" font-size="2.85" text-anchor="start" font-weight="bold" fill="#000" font-family='"Liberation Serif",serif'  textLength="25" lengthAdjust="spacingAndGlyphs">AMDAD-ACU (ε(φ))</text>
<line x1="72.50" y1="149.00" x2="72.50" y2="221.40" stroke="#444" stroke-width="0.6" />
<line x1="72.50" y1="221.40" x2="148.86" y2="221.40" stroke="#444" stroke-width="0.6" />
<line x1="72.50" y1="221.40" x2="73.70" y2="221.40" stroke="#444" stroke-width="0.5" />
<text x="71.30" y="222.30" stroke="#000" stroke-width="0.12" font-size="3.73" text-anchor="end" font-weight="bold" fill="#000" font-family='"Liberation Serif",serif' >0</text>
<line x1="72.50" y1="203.55" x2="73.70" y2="203.55" stroke="#444" stroke-width="0.5" />
<text x="71.30" y="204.45" stroke="#000" stroke-width="0.12" font-size="3.73" text-anchor="end" font-weight="bold" fill="#000" font-family='"Liberation Serif",serif' >0.012</text>
<line x1="72.50" y1="185.70" x2="73.70" y2="185.70" stroke="#444" stroke-width="0.5" />
<text x="71.30" y="186.60" stroke="#000" stroke-width="0.12" font-size="3.73" text-anchor="end" font-weight="bold" fill="#000" font-family='"Liberation Serif",serif' >0.024</text>
<line x1="72.50" y1="167.85" x2="73.70" y2="167.85" stroke="#444" stroke-width="0.5" />
<text x="71.30" y="168.75" stroke="#000" stroke-width="0.12" font-size="3.73" text-anchor="end" font-weight="bold" fill="#000" font-family='"Liberation Serif",serif' >0.036</text>
<line x1="72.50" y1="150.00" x2="73.70" y2="150.00" stroke="#444" stroke-width="0.5" />
<text x="71.30" y="150.90" stroke="#000" stroke-width="0.12" font-size="3.73" text-anchor="end" font-weight="bold" fill="#000" font-family='"Liberation Serif",serif' >0.048</text>
<line x1="72.50" y1="221.40" x2="72.50" y2="220.20" stroke="#444" stroke-width="0.4" />
<line x1="75.02" y1="221.40" x2="75.02" y2="220.70" stroke="#444" stroke-width="0.4" />
<line x1="77.54" y1="221.40" x2="77.54" y2="220.70" stroke="#444" stroke-width="0.4" />
<line x1="80.06" y1="221.40" x2="80.06" y2="220.70" stroke="#444" stroke-width="0.4" />
<line x1="82.58" y1="221.40" x2="82.58" y2="220.70" stroke="#444" stroke-width="0.4" />
<line x1="85.10" y1="221.40" x2="85.10" y2="220.20" stroke="#444" stroke-width="0.4" />
<line x1="87.62" y1="221.40" x2="87.62" y2="220.70" stroke="#444" stroke-width="0.4" />
<line x1="90.14" y1="221.40" x2="90.14" y2="220.70" stroke="#444" stroke-width="0.4" />
<line x1="92.66" y1="221.40" x2="92.66" y2="220.70" stroke="#444" stroke-width="0.4" />
<line x1="95.18" y1="221.40" x2="95.18" y2="220.70" stroke="#444" stroke-width="0.4" />
<line x1="97.70" y1="221.40" x2="97.70" y2="220.20" stroke="#444" stroke-width="0.4" />
<line x1="100.22" y1="221.40" x2="100.22" y2="220.70" stroke="#444" stroke-width="0.4" />
<line x1="102.74" y1="221.40" x2="102.74" y2="220.70" stroke="#444" stroke-width="0.4" />
<line x1="105.26" y1="221.40" x2="105.26" y2="220.70" stroke="#444" stroke-width="0.4" />
<line x1="107.78" y1="221.40" x2="107.78" y2="220.70" stroke="#444" stroke-width="0.4" />
<line x1="110.30" y1="221.40" x2="110.30" y2="220.20" stroke="#444" stroke-width="0.4" />
<line x1="112.82" y1="221.40" x2="112.82" y2="220.70" stroke="#444" stroke-width="0.4" />
<line x1="115.34" y1="221.40" x2="115.34" y2="220.70" stroke="#444" stroke-width="0.4" />
<line x1="117.86" y1="221.40" x2="117.86" y2="220.70" stroke="#444" stroke-width="0.4" />
<line x1="120.38" y1="221.40" x2="120.38" y2="220.70" stroke="#444" stroke-width="0.4" />
<line x1="122.90" y1="221.40" x2="122.90" y2="220.20" stroke="#444" stroke-width="0.4" />
<line x1="125.42" y1="221.40" x2="125.42" y2="220.70" stroke="#444" stroke-width="0.4" />
<line x1="127.94" y1="221.40" x2="127.94" y2="220.70" stroke="#444" stroke-width="0.4" />
<line x1="130.46" y1="221.40" x2="130.46" y2="220.70" stroke="#444" stroke-width="0.4" />
<line x1="132.98" y1="221.40" x2="132.98" y2="220.70" stroke="#444" stroke-width="0.4" />
<line x1="135.50" y1="221.40" x2="135.50" y2="220.20" stroke="#444" stroke-width="0.4" />
<line x1="138.02" y1="221.40" x2="138.02" y2="220.70" stroke="#444" stroke-width="0.4" />
<line x1="140.54" y1="221.40" x2="140.54" y2="220.70" stroke="#444" stroke-width="0.4" />
<line x1="143.06" y1="221.40" x2="143.06" y2="220.70" stroke="#444" stroke-width="0.4" />
<line x1="145.58" y1="221.40" x2="145.58" y2="220.70" stroke="#444" stroke-width="0.4" />
<line x1="148.10" y1="221.40" x2="148.10" y2="220.20" stroke="#444" stroke-width="0.4" />
<text x="72.50" y="225.20" stroke="#000" stroke-width="0.12" font-size="3.73" text-anchor="middle" font-weight="bold" fill="#000" font-family='"Liberation Serif",serif' >0</text>
<text x="85.10" y="225.20" stroke="#000" stroke-width="0.12" font-size="3.73" text-anchor="middle" font-weight="bold" fill="#000" font-family='"Liberation Serif",serif' >0.5</text>
<text x="97.70" y="225.20" stroke="#000" stroke-width="0.12" font-size="3.73" text-anchor="middle" font-weight="bold" fill="#000" font-family='"Liberation Serif",serif' >1</text>
<text x="110.30" y="225.20" stroke="#000" stroke-width="0.12" font-size="3.73" text-anchor="middle" font-weight="bold" fill="#000" font-family='"Liberation Serif",serif' >1.5</text>
<text x="122.90" y="225.20" stroke="#000" stroke-width="0.12" font-size="3.73" text-anchor="middle" font-weight="bold" fill="#000" font-family='"Liberation Serif",serif' >2</text>
<text x="135.50" y="225.20" stroke="#000" stroke-width="0.12" font-size="3.73" text-anchor="middle" font-weight="bold" fill="#000" font-family='"Liberation Serif",serif' >2.5</text>
<text x="148.10" y="225.20" stroke="#000" stroke-width="0.12" font-size="3.73" text-anchor="middle" font-weight="bold" fill="#000" font-family='"Liberation Serif",serif' >3</text>
<text x="111.70" y="228.80" stroke="#000" stroke-width="0.12" font-size="4.42" text-anchor="middle" font-weight="bold" fill="#000" font-family='"Liberation Serif",serif' font-style="italic">φ</text>
<text x="60.30" y="186.00" stroke="#000" stroke-width="0.12" font-size="4.14" text-anchor="middle" font-weight="bold" fill="#000" font-family='"Liberation Serif",serif' font-style="italic">ε</text>
<line x1="72.50" y1="203.55" x2="151.67" y2="203.55" stroke="#777" stroke-width="0.5" stroke-dasharray="0.6 0.5"/>
<path d="M72.50,221.20 L73.16,221.20 L73.82,221.20 L74.48,221.20 L75.14,221.20 L75.80,221.20 L76.46,221.20 L77.12,221.20 L77.79,221.20 L78.45,221.20 L79.11,221.20 L79.77,221.20 L80.43,221.20 L81.09,221.20 L81.75,221.20 L82.41,221.20 L83.07,221.20 L83.73,221.20 L84.39,221.20 L85.05,221.20 L85.71,221.20 L86.37,221.20 L87.04,221.20 L87.70,221.20 L88.36,221.20 L89.02,221.20 L89.68,221.20 L90.34,221.20 L91.00,221.20 L91.66,221.20 L92.32,221.20 L92.98,221.20 L93.64,221.20 L94.30,221.20 L94.96,221.20 L95.62,221.20 L96.29,221.20 L96.95,221.20 L97.61,221.20 L98.27,221.20 L98.93,221.20 L99.59,221.20 L100.25,221.20 L100.91,221.20 L101.57,221.20 L102.23,220.29 L102.89,219.39 L103.55,218.53 L104.21,217.71 L104.87,216.94 L105.54,216.22 L106.20,215.53 L106.86,214.87 L107.52,214.26 L108.18,213.67 L108.84,213.12 L109.50,212.60 L110.16,212.10 L110.82,211.63 L111.48,211.19 L112.14,210.77 L112.80,210.37 L113.46,209.99 L114.12,209.64 L114.79,209.30 L115.45,208.98 L116.11,208.68 L116.77,208.40 L117.43,208.13 L118.09,207.87 L118.75,207.63 L119.41,207.40 L120.07,207.18 L120.73,206.98 L121.39,206.78 L122.05,206.60 L122.71,206.42 L123.37,206.26 L124.04,206.10 L124.70,205.96 L125.36,205.82 L126.02,205.68 L126.68,205.56 L127.34,205.44 L128.00,205.33 L128.66,205.22 L129.32,205.12 L129.98,205.03 L130.64,204.94 L131.30,204.85 L131.96,204.77 L132.62,204.70 L133.28,204.62 L133.95,204.56 L134.61,204.49 L135.27,204.43 L135.93,204.37 L136.59,204.32 L137.25,204.27 L137.91,204.22 L138.57,204.17 L139.23,204.13 L139.89,204.08 L140.55,204.05 L141.21,204.01 L141.87,203.97 L142.53,203.94 L143.20,203.91 L143.86,203.88 L144.52,203.85 L145.18,203.82 L145.84,203.80 L146.50,203.77 L147.16,203.75 L147.82,203.73 L148.48,203.71 L149.14,203.69 L149.80,203.67 L150.46,203.65 L151.12,203.64" fill="none" stroke="#f26868" stroke-width="0.88" />
<path d="M73.51,155.21 L87.12,155.21 L87.87,156.25 L88.88,161.90 L90.14,172.31 L91.40,181.98 L92.66,190.91 L93.92,198.34 L95.18,205.04 L96.44,210.24 L97.70,214.26 L98.96,217.68 L100.22,219.91 L101.61,221.40 L102.74,219.79 L103.73,218.51 L104.71,217.33 L105.70,216.24 L106.69,215.24 L107.68,214.31 L108.66,213.46 L109.65,212.68 L110.64,211.96 L111.63,211.29 L112.61,210.68 L113.60,210.12 L114.59,209.60 L115.58,209.12 L116.56,208.68 L117.55,208.28 L118.54,207.90 L119.53,207.56 L120.51,207.24 L121.50,206.95 L122.49,206.68 L123.48,206.43 L124.46,206.21 L125.45,206.00 L126.44,205.80 L127.43,205.63 L128.41,205.46 L129.40,205.31 L130.39,205.17 L131.38,205.04 L132.36,204.93 L133.35,204.82 L134.34,204.72 L135.33,204.62 L136.31,204.54 L137.30,204.46 L138.29,204.39 L139.27,204.32 L140.26,204.26 L141.25,204.21 L142.24,204.15 L143.22,204.11 L144.21,204.06 L145.20,204.02 L146.19,203.98 L147.17,203.95 L148.16,203.92 L149.15,203.89 L150.14,203.86 L151.12,203.84" fill="none" stroke="#5464f4" stroke-width="0.84" stroke-dasharray="1.5 1.1"/>
<line x1="115.00" y1="153.90" x2="127.50" y2="153.90" stroke="#888" stroke-width="0.55" stroke-dasharray="0.6 0.5"/>
<text x="130.00" y="154.80" stroke="#000" stroke-width="0.05" font-size="2.85" text-anchor="start" font-weight="bold" fill="#000" font-family='"Liberation Serif",serif'  textLength="20.6" lengthAdjust="spacingAndGlyphs">Fixed ε=0.0125</text>
<line x1="115.00" y1="157.40" x2="127.50" y2="157.40" stroke="#ee3333" stroke-width="0.55" />
<text x="130.00" y="158.30" stroke="#000" stroke-width="0.05" font-size="2.85" text-anchor="start" font-weight="bold" fill="#000" font-family='"Liberation Serif",serif'  textLength="16.2" lengthAdjust="spacingAndGlyphs">Final ε(φ<tspan font-size="2" dy="0.6">q</tspan>)</text>
<line x1="115.00" y1="160.75" x2="127.50" y2="160.75" stroke="#4455ff" stroke-width="0.55" stroke-dasharray="1.5 1.1"/>
<text x="130.00" y="161.65" stroke="#000" stroke-width="0.05" font-size="2.85" text-anchor="start" font-weight="bold" fill="#000" font-family='"Liberation Serif",serif'  textLength="24.4" lengthAdjust="spacingAndGlyphs">Estimated ε(φ<tspan font-size="2" dy="0.6">q</tspan>)</text>
<line x1="243.90" y1="42.50" x2="243.90" y2="115.20" stroke="#444" stroke-width="0.6" />
<line x1="243.90" y1="115.20" x2="323.20" y2="115.20" stroke="#444" stroke-width="0.6" />
<line x1="243.90" y1="43.50" x2="245.10" y2="43.50" stroke="#444" stroke-width="0.5" />
<text x="242.70" y="44.40" stroke="#000" stroke-width="0.12" font-size="3.73" text-anchor="end" font-weight="bold" fill="#000" font-family='"Liberation Serif",serif' >4.5</text>
<line x1="243.90" y1="61.42" x2="245.10" y2="61.42" stroke="#444" stroke-width="0.5" />
<text x="242.70" y="62.32" stroke="#000" stroke-width="0.12" font-size="3.73" text-anchor="end" font-weight="bold" fill="#000" font-family='"Liberation Serif",serif' >3.5</text>
<line x1="243.90" y1="79.34" x2="245.10" y2="79.34" stroke="#444" stroke-width="0.5" />
<text x="242.70" y="80.24" stroke="#000" stroke-width="0.12" font-size="3.73" text-anchor="end" font-weight="bold" fill="#000" font-family='"Liberation Serif",serif' >2.5</text>
<line x1="243.90" y1="97.26" x2="245.10" y2="97.26" stroke="#444" stroke-width="0.5" />
<text x="242.70" y="98.16" stroke="#000" stroke-width="0.12" font-size="3.73" text-anchor="end" font-weight="bold" fill="#000" font-family='"Liberation Serif",serif' >1.5</text>
<line x1="243.90" y1="115.18" x2="245.10" y2="115.18" stroke="#444" stroke-width="0.5" />
<text x="242.70" y="116.08" stroke="#000" stroke-width="0.12" font-size="3.73" text-anchor="end" font-weight="bold" fill="#000" font-family='"Liberation Serif",serif' >0.5</text>
<line x1="243.90" y1="115.20" x2="243.90" y2="114.00" stroke="#444" stroke-width="0.5" />
<text x="243.90" y="119.00" stroke="#000" stroke-width="0.12" font-size="3.73" text-anchor="middle" font-weight="bold" fill="#000" font-family='"Liberation Serif",serif' >0</text>
<line x1="259.60" y1="115.20" x2="259.60" y2="114.00" stroke="#444" stroke-width="0.5" />
<text x="259.60" y="119.00" stroke="#000" stroke-width="0.12" font-size="3.73" text-anchor="middle" font-weight="bold" fill="#000" font-family='"Liberation Serif",serif' >2</text>
<line x1="275.30" y1="115.20" x2="275.30" y2="114.00" stroke="#444" stroke-width="0.5" />
<text x="275.30" y="119.00" stroke="#000" stroke-width="0.12" font-size="3.73" text-anchor="middle" font-weight="bold" fill="#000" font-family='"Liberation Serif",serif' >4</text>
<line x1="291.00" y1="115.20" x2="291.00" y2="114.00" stroke="#444" stroke-width="0.5" />
<text x="291.00" y="119.00" stroke="#000" stroke-width="0.12" font-size="3.73" text-anchor="middle" font-weight="bold" fill="#000" font-family='"Liberation Serif",serif' >6</text>
<line x1="306.70" y1="115.20" x2="306.70" y2="114.00" stroke="#444" stroke-width="0.5" />
<text x="306.70" y="119.00" stroke="#000" stroke-width="0.12" font-size="3.73" text-anchor="middle" font-weight="bold" fill="#000" font-family='"Liberation Serif",serif' >8</text>
<line x1="322.40" y1="115.20" x2="322.40" y2="114.00" stroke="#444" stroke-width="0.5" />
<text x="322.40" y="119.00" stroke="#000" stroke-width="0.12" font-size="3.73" text-anchor="middle" font-weight="bold" fill="#000" font-family='"Liberation Serif",serif' >10</text>
<text x="283.00" y="123.00" stroke="#000" stroke-width="0.12" font-size="4.14" text-anchor="middle" font-weight="bold" fill="#000" font-family='"Liberation Serif",serif' >x</text>
<text x="237.20" y="79.80" stroke="#000" stroke-width="0.12" font-size="3.73" text-anchor="middle" font-weight="bold" fill="#000" font-family='"Liberation Serif",serif' transform="rotate(-90 237.2 79.8)">Density</text>
<path d="M243.90,58.50 L259.80,58.50 L261.20,59.60 L263.80,55.40 L265.20,57.50 L268.60,61.80 L272.20,55.40 L273.60,57.50 L276.80,61.80 L280.20,55.20 L281.80,57.50 L285.70,62.90 L288.40,54.50 L289.05,60.78 L289.85,44.80 L291.15,61.75 L292.45,50.95 L293.85,69.53 L295.25,44.80 L296.45,66.40 L297.75,42.96 L299.15,67.91 L300.55,50.95 L301.35,60.24 L302.00,75.00 L302.40,112.30 L302.91,109.49 L303.43,108.47 L303.94,107.59 L304.45,106.94 L304.96,106.57 L305.48,106.52 L305.99,106.79 L306.50,107.36 L307.02,108.18 L307.53,109.17 L308.04,110.24 L308.55,111.30 L309.07,112.25 L309.58,113.01 L310.09,113.51 L310.61,113.70 L311.12,113.56 L311.63,113.12 L312.14,112.40 L312.66,111.48 L313.17,110.43 L313.68,109.35 L314.19,108.34 L314.71,107.49 L315.22,106.87 L315.73,106.54 L316.25,106.54 L316.76,106.85 L317.27,107.46 L317.78,108.30 L318.30,109.31 L318.81,110.39 L319.32,111.44 L319.84,112.37 L320.35,113.10 L320.86,113.55 L321.37,113.70 L321.89,113.52 L322.40,113.04" fill="none" stroke="#777" stroke-width="0.5" stroke-dasharray="1.2 0.8"/>
<path d="M243.90,58.50 L259.80,58.50 L261.20,59.60 L263.80,55.40 L265.20,57.50 L268.60,61.80 L272.20,55.40 L273.60,57.50 L276.80,61.80 L280.20,55.20 L281.80,57.50 L285.70,62.90 L288.40,54.50 L289.55,58.75 L290.35,51.35 L291.65,59.20 L292.95,54.20 L294.35,62.80 L295.75,51.35 L296.95,61.35 L298.25,50.50 L299.65,62.05 L301.05,54.20 L301.85,58.50 L302.00,75.00 L302.40,112.30 L302.91,109.49 L303.43,108.47 L303.94,107.59 L304.45,106.94 L304.96,106.57 L305.48,106.52 L305.99,106.79 L306.50,107.36 L307.02,108.18 L307.53,109.17 L308.04,110.24 L308.55,111.30 L309.07,112.25 L309.58,113.01 L310.09,113.51 L310.61,113.70 L311.12,113.56 L311.63,113.12 L312.14,112.40 L312.66,111.48 L313.17,110.43 L313.68,109.35 L314.19,108.34 L314.71,107.49 L315.22,106.87 L315.73,106.54 L316.25,106.54 L316.76,106.85 L317.27,107.46 L317.78,108.30 L318.30,109.31 L318.81,110.39 L319.32,111.44 L319.84,112.37 L320.35,113.10 L320.86,113.55 L321.37,113.70 L321.89,113.52 L322.40,113.04" fill="none" stroke="#22dd22" stroke-width="0.56" />
<path d="M243.90,58.50 L259.80,58.50 L261.20,59.60 L263.80,55.40 L265.20,57.50 L268.60,61.80 L272.20,55.40 L273.60,57.50 L276.80,61.80 L280.20,55.20 L281.80,57.50 L285.70,62.90 L288.40,54.50 L289.45,59.52 L290.25,48.86 L291.55,60.17 L292.85,52.97 L294.25,65.35 L295.65,48.86 L296.85,63.26 L298.15,47.64 L299.55,64.27 L300.95,52.97 L301.75,59.16 L302.00,75.00 L302.40,112.30 L302.91,109.49 L303.43,108.47 L303.94,107.59 L304.45,106.94 L304.96,106.57 L305.48,106.52 L305.99,106.79 L306.50,107.36 L307.02,108.18 L307.53,109.17 L308.04,110.24 L308.55,111.30 L309.07,112.25 L309.58,113.01 L310.09,113.51 L310.61,113.70 L311.12,113.56 L311.63,113.12 L312.14,112.40 L312.66,111.48 L313.17,110.43 L313.68,109.35 L314.19,108.34 L314.71,107.49 L315.22,106.87 L315.73,106.54 L316.25,106.54 L316.76,106.85 L317.27,107.46 L317.78,108.30 L318.30,109.31 L318.81,110.39 L319.32,111.44 L319.84,112.37 L320.35,113.10 L320.86,113.55 L321.37,113.70 L321.89,113.52 L322.40,113.04" fill="none" stroke="#ff9922" stroke-width="0.56" />
<path d="M243.90,58.50 L259.80,58.50 L261.20,59.60 L263.80,55.40 L265.20,57.50 L268.60,61.80 L272.20,55.40 L273.60,57.50 L276.80,61.80 L280.20,55.20 L281.80,57.50 L285.70,62.90 L288.40,54.50 L289.32,60.01 L290.12,47.28 L291.42,60.78 L292.72,52.18 L294.12,66.98 L295.52,47.28 L296.72,64.48 L298.02,45.82 L299.42,65.69 L300.82,52.18 L301.62,59.58 L302.00,75.00 L302.40,112.30 L302.91,109.49 L303.43,108.47 L303.94,107.59 L304.45,106.94 L304.96,106.57 L305.48,106.52 L305.99,106.79 L306.50,107.36 L307.02,108.18 L307.53,109.17 L308.04,110.24 L308.55,111.30 L309.07,112.25 L309.58,113.01 L310.09,113.51 L310.61,113.70 L311.12,113.56 L311.63,113.12 L312.14,112.40 L312.66,111.48 L313.17,110.43 L313.68,109.35 L314.19,108.34 L314.71,107.49 L315.22,106.87 L315.73,106.54 L316.25,106.54 L316.76,106.85 L317.27,107.46 L317.78,108.30 L318.30,109.31 L318.81,110.39 L319.32,111.44 L319.84,112.37 L320.35,113.10 L320.86,113.55 L321.37,113.70 L321.89,113.52 L322.40,113.04" fill="none" stroke="#2222ee" stroke-width="0.56" />
<path d="M243.90,58.50 L259.80,58.50 L261.20,59.60 L263.80,55.40 L265.20,57.50 L268.60,61.80 L272.20,55.40 L273.60,57.50 L276.80,61.80 L280.20,55.20 L281.80,57.50 L285.70,62.90 L288.40,54.50 L289.20,60.50 L290.00,45.70 L291.30,61.40 L292.60,51.40 L294.00,68.60 L295.40,45.70 L296.60,65.70 L297.90,44.00 L299.30,67.10 L300.70,51.40 L301.50,60.00 L302.00,75.00 L302.40,112.30 L302.91,109.49 L303.43,108.47 L303.94,107.59 L304.45,106.94 L304.96,106.57 L305.48,106.52 L305.99,106.79 L306.50,107.36 L307.02,108.18 L307.53,109.17 L308.04,110.24 L308.55,111.30 L309.07,112.25 L309.58,113.01 L310.09,113.51 L310.61,113.70 L311.12,113.56 L311.63,113.12 L312.14,112.40 L312.66,111.48 L313.17,110.43 L313.68,109.35 L314.19,108.34 L314.71,107.49 L315.22,106.87 L315.73,106.54 L316.25,106.54 L316.76,106.85 L317.27,107.46 L317.78,108.30 L318.30,109.31 L318.81,110.39 L319.32,111.44 L319.84,112.37 L320.35,113.10 L320.86,113.55 L321.37,113.70 L321.89,113.52 L322.40,113.04" fill="none" stroke="#dd1111" stroke-width="0.56" />
<circle cx="247.00" cy="58.50" r="0.42" fill="#2222dd"/>
<circle cx="250.10" cy="58.50" r="0.42" fill="#2222dd"/>
<circle cx="253.20" cy="58.50" r="0.42" fill="#2222dd"/>
<circle cx="256.30" cy="58.50" r="0.42" fill="#2222dd"/>
<circle cx="259.40" cy="58.50" r="0.42" fill="#2222dd"/>
<circle cx="261.68" cy="58.82" r="0.42" fill="#2222dd"/>
<circle cx="263.32" cy="56.18" r="0.42" fill="#2222dd"/>
<circle cx="265.01" cy="57.21" r="0.42" fill="#2222dd"/>
<circle cx="266.91" cy="59.66" r="0.42" fill="#2222dd"/>
<circle cx="268.78" cy="61.47" r="0.42" fill="#2222dd"/>
<circle cx="270.30" cy="58.77" r="0.42" fill="#2222dd"/>
<circle cx="271.82" cy="56.07" r="0.42" fill="#2222dd"/>
<circle cx="273.49" cy="57.34" r="0.42" fill="#2222dd"/>
<circle cx="275.34" cy="59.83" r="0.42" fill="#2222dd"/>
<circle cx="277.10" cy="61.22" r="0.42" fill="#2222dd"/>
<circle cx="278.52" cy="58.47" r="0.42" fill="#2222dd"/>
<circle cx="279.94" cy="55.71" r="0.42" fill="#2222dd"/>
<circle cx="281.64" cy="57.27" r="0.42" fill="#2222dd"/>
<circle cx="283.45" cy="59.79" r="0.42" fill="#2222dd"/>
<circle cx="285.27" cy="62.30" r="0.42" fill="#2222dd"/>
<circle cx="286.42" cy="60.65" r="0.42" fill="#2222dd"/>
<circle cx="287.37" cy="57.70" r="0.42" fill="#2222dd"/>
<circle cx="288.32" cy="54.75" r="0.42" fill="#2222dd"/>
<circle cx="288.77" cy="57.31" r="0.42" fill="#2222dd"/>
<circle cx="289.18" cy="60.38" r="0.42" fill="#2222dd"/>
<circle cx="289.36" cy="57.52" r="0.42" fill="#2222dd"/>
<circle cx="289.53" cy="54.43" r="0.42" fill="#2222dd"/>
<circle cx="289.70" cy="51.33" r="0.42" fill="#2222dd"/>
<circle cx="289.86" cy="48.23" r="0.42" fill="#2222dd"/>
<circle cx="290.05" cy="46.26" r="0.42" fill="#2222dd"/>
<circle cx="290.30" cy="49.35" r="0.42" fill="#2222dd"/>
<circle cx="290.56" cy="52.44" r="0.42" fill="#2222dd"/>
<circle cx="290.81" cy="55.53" r="0.42" fill="#2222dd"/>
<circle cx="291.07" cy="58.62" r="0.42" fill="#2222dd"/>
<circle cx="291.34" cy="61.09" r="0.42" fill="#2222dd"/>
<circle cx="291.74" cy="58.02" r="0.42" fill="#2222dd"/>
<circle cx="292.14" cy="54.95" r="0.42" fill="#2222dd"/>
<circle cx="292.54" cy="51.87" r="0.42" fill="#2222dd"/>
<circle cx="292.81" cy="54.02" r="0.42" fill="#2222dd"/>
<circle cx="293.06" cy="57.11" r="0.42" fill="#2222dd"/>
<circle cx="293.32" cy="60.20" r="0.42" fill="#2222dd"/>
<circle cx="293.57" cy="63.28" r="0.42" fill="#2222dd"/>
<circle cx="293.82" cy="66.37" r="0.42" fill="#2222dd"/>
<circle cx="294.05" cy="67.73" r="0.42" fill="#2222dd"/>
<circle cx="294.24" cy="64.64" r="0.42" fill="#2222dd"/>
<circle cx="294.43" cy="61.55" r="0.42" fill="#2222dd"/>
<circle cx="294.62" cy="58.45" r="0.42" fill="#2222dd"/>
<circle cx="294.81" cy="55.36" r="0.42" fill="#2222dd"/>
<circle cx="295.00" cy="52.26" r="0.42" fill="#2222dd"/>
<circle cx="295.19" cy="49.17" r="0.42" fill="#2222dd"/>
<circle cx="295.38" cy="46.07" r="0.42" fill="#2222dd"/>
<circle cx="295.56" cy="48.42" r="0.42" fill="#2222dd"/>
<circle cx="295.75" cy="51.51" r="0.42" fill="#2222dd"/>
<circle cx="295.93" cy="54.61" r="0.42" fill="#2222dd"/>
<circle cx="296.12" cy="57.70" r="0.42" fill="#2222dd"/>
<circle cx="296.31" cy="60.80" r="0.42" fill="#2222dd"/>
<circle cx="296.49" cy="63.89" r="0.42" fill="#2222dd"/>
<circle cx="296.68" cy="64.41" r="0.42" fill="#2222dd"/>
<circle cx="296.86" cy="61.32" r="0.42" fill="#2222dd"/>
<circle cx="297.05" cy="58.22" r="0.42" fill="#2222dd"/>
<circle cx="297.23" cy="55.13" r="0.42" fill="#2222dd"/>
<circle cx="297.42" cy="52.04" r="0.42" fill="#2222dd"/>
<circle cx="297.60" cy="48.94" r="0.42" fill="#2222dd"/>
<circle cx="297.79" cy="45.85" r="0.42" fill="#2222dd"/>
<circle cx="297.98" cy="45.25" r="0.42" fill="#2222dd"/>
<circle cx="298.16" cy="48.34" r="0.42" fill="#2222dd"/>
<circle cx="298.35" cy="51.44" r="0.42" fill="#2222dd"/>
<circle cx="298.54" cy="54.53" r="0.42" fill="#2222dd"/>
<circle cx="298.73" cy="57.62" r="0.42" fill="#2222dd"/>
<circle cx="298.91" cy="60.72" r="0.42" fill="#2222dd"/>
<circle cx="299.10" cy="63.81" r="0.42" fill="#2222dd"/>
<circle cx="299.29" cy="66.91" r="0.42" fill="#2222dd"/>
<circle cx="299.56" cy="64.20" r="0.42" fill="#2222dd"/>
<circle cx="299.83" cy="61.12" r="0.42" fill="#2222dd"/>
<circle cx="300.11" cy="58.03" r="0.42" fill="#2222dd"/>
<circle cx="300.38" cy="54.94" r="0.42" fill="#2222dd"/>
<circle cx="300.66" cy="51.85" r="0.42" fill="#2222dd"/>
<circle cx="300.94" cy="54.03" r="0.42" fill="#2222dd"/>
<circle cx="301.23" cy="57.12" r="0.42" fill="#2222dd"/>
<circle cx="301.51" cy="60.21" r="0.42" fill="#2222dd"/>
<circle cx="301.61" cy="63.31" r="0.42" fill="#2222dd"/>
<circle cx="301.71" cy="66.40" r="0.42" fill="#2222dd"/>
<circle cx="301.82" cy="69.50" r="0.42" fill="#2222dd"/>
<circle cx="301.92" cy="72.60" r="0.42" fill="#2222dd"/>
<circle cx="302.01" cy="75.70" r="0.42" fill="#2222dd"/>
<circle cx="302.04" cy="78.80" r="0.42" fill="#2222dd"/>
<circle cx="302.07" cy="81.90" r="0.42" fill="#2222dd"/>
<circle cx="302.11" cy="85.00" r="0.42" fill="#2222dd"/>
<circle cx="302.14" cy="88.10" r="0.42" fill="#2222dd"/>
<circle cx="302.17" cy="91.20" r="0.42" fill="#2222dd"/>
<circle cx="302.21" cy="94.30" r="0.42" fill="#2222dd"/>
<circle cx="302.24" cy="97.40" r="0.42" fill="#2222dd"/>
<circle cx="302.27" cy="100.50" r="0.42" fill="#2222dd"/>
<circle cx="302.31" cy="103.60" r="0.42" fill="#2222dd"/>
<circle cx="302.34" cy="106.70" r="0.42" fill="#2222dd"/>
<circle cx="302.37" cy="109.80" r="0.42" fill="#2222dd"/>
<circle cx="302.51" cy="111.71" r="0.42" fill="#2222dd"/>
<circle cx="303.29" cy="108.74" r="0.42" fill="#2222dd"/>
<circle cx="305.28" cy="106.54" r="0.42" fill="#2222dd"/>
<circle cx="307.29" cy="108.70" r="0.42" fill="#2222dd"/>
<circle cx="308.65" cy="111.49" r="0.42" fill="#2222dd"/>
<circle cx="310.66" cy="113.69" r="0.42" fill="#2222dd"/>
<circle cx="312.66" cy="111.47" r="0.42" fill="#2222dd"/>
<circle cx="314.02" cy="108.69" r="0.42" fill="#2222dd"/>
<circle cx="316.04" cy="106.54" r="0.42" fill="#2222dd"/>
<circle cx="318.02" cy="108.76" r="0.42" fill="#2222dd"/>
<circle cx="319.38" cy="111.54" r="0.42" fill="#2222dd"/>
<circle cx="321.42" cy="113.69" r="0.42" fill="#2222dd"/>
<circle cx="248.00" cy="58.50" r="0.36" fill="#ff9922"/>
<circle cx="251.10" cy="58.50" r="0.36" fill="#ff9922"/>
<circle cx="254.20" cy="58.50" r="0.36" fill="#ff9922"/>
<circle cx="257.30" cy="58.50" r="0.36" fill="#ff9922"/>
<circle cx="260.27" cy="58.87" r="0.36" fill="#ff9922"/>
<circle cx="262.21" cy="57.97" r="0.36" fill="#ff9922"/>
<circle cx="263.84" cy="55.47" r="0.36" fill="#ff9922"/>
<circle cx="265.61" cy="58.01" r="0.36" fill="#ff9922"/>
<circle cx="267.53" cy="60.45" r="0.36" fill="#ff9922"/>
<circle cx="269.27" cy="60.60" r="0.36" fill="#ff9922"/>
<circle cx="270.79" cy="57.90" r="0.36" fill="#ff9922"/>
<circle cx="272.33" cy="55.59" r="0.36" fill="#ff9922"/>
<circle cx="274.08" cy="58.15" r="0.36" fill="#ff9922"/>
<circle cx="275.93" cy="60.63" r="0.36" fill="#ff9922"/>
<circle cx="277.55" cy="60.34" r="0.36" fill="#ff9922"/>
<circle cx="278.97" cy="57.58" r="0.36" fill="#ff9922"/>
<circle cx="280.44" cy="55.55" r="0.36" fill="#ff9922"/>
<circle cx="282.22" cy="58.08" r="0.36" fill="#ff9922"/>
<circle cx="284.04" cy="60.60" r="0.36" fill="#ff9922"/>
<circle cx="285.78" cy="62.65" r="0.36" fill="#ff9922"/>
<circle cx="286.73" cy="59.70" r="0.36" fill="#ff9922"/>
<circle cx="287.68" cy="56.75" r="0.36" fill="#ff9922"/>
<circle cx="288.50" cy="55.23" r="0.36" fill="#ff9922"/>
<circle cx="288.91" cy="58.30" r="0.36" fill="#ff9922"/>
<circle cx="289.25" cy="59.62" r="0.36" fill="#ff9922"/>
<circle cx="289.42" cy="56.52" r="0.36" fill="#ff9922"/>
<circle cx="289.58" cy="53.43" r="0.36" fill="#ff9922"/>
<circle cx="289.75" cy="50.33" r="0.36" fill="#ff9922"/>
<circle cx="289.92" cy="47.24" r="0.36" fill="#ff9922"/>
<circle cx="290.13" cy="47.26" r="0.36" fill="#ff9922"/>
<circle cx="290.38" cy="50.35" r="0.36" fill="#ff9922"/>
<circle cx="290.64" cy="53.44" r="0.36" fill="#ff9922"/>
<circle cx="290.90" cy="56.53" r="0.36" fill="#ff9922"/>
<circle cx="291.15" cy="59.61" r="0.36" fill="#ff9922"/>
<circle cx="291.47" cy="60.10" r="0.36" fill="#ff9922"/>
<circle cx="291.87" cy="57.03" r="0.36" fill="#ff9922"/>
<circle cx="292.27" cy="53.95" r="0.36" fill="#ff9922"/>
<circle cx="292.64" cy="51.92" r="0.36" fill="#ff9922"/>
<circle cx="292.89" cy="55.01" r="0.36" fill="#ff9922"/>
<circle cx="293.15" cy="58.10" r="0.36" fill="#ff9922"/>
<circle cx="293.40" cy="61.19" r="0.36" fill="#ff9922"/>
<circle cx="293.65" cy="64.28" r="0.36" fill="#ff9922"/>
<circle cx="293.90" cy="67.37" r="0.36" fill="#ff9922"/>
<circle cx="294.11" cy="66.74" r="0.36" fill="#ff9922"/>
<circle cx="294.30" cy="63.64" r="0.36" fill="#ff9922"/>
<circle cx="294.49" cy="60.55" r="0.36" fill="#ff9922"/>
<circle cx="294.68" cy="57.45" r="0.36" fill="#ff9922"/>
<circle cx="294.87" cy="54.36" r="0.36" fill="#ff9922"/>
<circle cx="295.06" cy="51.26" r="0.36" fill="#ff9922"/>
<circle cx="295.25" cy="48.17" r="0.36" fill="#ff9922"/>
<circle cx="295.44" cy="46.32" r="0.36" fill="#ff9922"/>
<circle cx="295.62" cy="49.42" r="0.36" fill="#ff9922"/>
<circle cx="295.81" cy="52.51" r="0.36" fill="#ff9922"/>
<circle cx="295.99" cy="55.61" r="0.36" fill="#ff9922"/>
<circle cx="296.18" cy="58.70" r="0.36" fill="#ff9922"/>
<circle cx="296.37" cy="61.80" r="0.36" fill="#ff9922"/>
<circle cx="296.55" cy="64.89" r="0.36" fill="#ff9922"/>
<circle cx="296.74" cy="63.42" r="0.36" fill="#ff9922"/>
<circle cx="296.92" cy="60.32" r="0.36" fill="#ff9922"/>
<circle cx="297.11" cy="57.23" r="0.36" fill="#ff9922"/>
<circle cx="297.29" cy="54.13" r="0.36" fill="#ff9922"/>
<circle cx="297.48" cy="51.04" r="0.36" fill="#ff9922"/>
<circle cx="297.66" cy="47.94" r="0.36" fill="#ff9922"/>
<circle cx="297.85" cy="44.85" r="0.36" fill="#ff9922"/>
<circle cx="298.04" cy="46.25" r="0.36" fill="#ff9922"/>
<circle cx="298.22" cy="49.34" r="0.36" fill="#ff9922"/>
<circle cx="298.41" cy="52.43" r="0.36" fill="#ff9922"/>
<circle cx="298.60" cy="55.53" r="0.36" fill="#ff9922"/>
<circle cx="298.79" cy="58.62" r="0.36" fill="#ff9922"/>
<circle cx="298.97" cy="61.72" r="0.36" fill="#ff9922"/>
<circle cx="299.16" cy="64.81" r="0.36" fill="#ff9922"/>
<circle cx="299.37" cy="66.30" r="0.36" fill="#ff9922"/>
<circle cx="299.65" cy="63.21" r="0.36" fill="#ff9922"/>
<circle cx="299.92" cy="60.12" r="0.36" fill="#ff9922"/>
<circle cx="300.20" cy="57.03" r="0.36" fill="#ff9922"/>
<circle cx="300.47" cy="53.94" r="0.36" fill="#ff9922"/>
<circle cx="300.75" cy="51.94" r="0.36" fill="#ff9922"/>
<circle cx="301.04" cy="55.03" r="0.36" fill="#ff9922"/>
<circle cx="301.32" cy="58.12" r="0.36" fill="#ff9922"/>
<circle cx="301.54" cy="61.21" r="0.36" fill="#ff9922"/>
<circle cx="301.64" cy="64.31" r="0.36" fill="#ff9922"/>
<circle cx="301.75" cy="67.40" r="0.36" fill="#ff9922"/>
<circle cx="301.85" cy="70.50" r="0.36" fill="#ff9922"/>
<circle cx="301.95" cy="73.60" r="0.36" fill="#ff9922"/>
<circle cx="302.02" cy="76.70" r="0.36" fill="#ff9922"/>
<circle cx="302.05" cy="79.80" r="0.36" fill="#ff9922"/>
<circle cx="302.08" cy="82.90" r="0.36" fill="#ff9922"/>
<circle cx="302.12" cy="86.00" r="0.36" fill="#ff9922"/>
<circle cx="302.15" cy="89.10" r="0.36" fill="#ff9922"/>
<circle cx="302.18" cy="92.20" r="0.36" fill="#ff9922"/>
<circle cx="302.22" cy="95.30" r="0.36" fill="#ff9922"/>
<circle cx="302.25" cy="98.40" r="0.36" fill="#ff9922"/>
<circle cx="302.28" cy="101.50" r="0.36" fill="#ff9922"/>
<circle cx="302.32" cy="104.60" r="0.36" fill="#ff9922"/>
<circle cx="302.35" cy="107.70" r="0.36" fill="#ff9922"/>
<circle cx="302.38" cy="110.80" r="0.36" fill="#ff9922"/>
<circle cx="302.69" cy="110.73" r="0.36" fill="#ff9922"/>
<circle cx="303.78" cy="107.87" r="0.36" fill="#ff9922"/>
<circle cx="306.14" cy="106.96" r="0.36" fill="#ff9922"/>
<circle cx="307.74" cy="109.60" r="0.36" fill="#ff9922"/>
<circle cx="309.14" cy="112.36" r="0.36" fill="#ff9922"/>
<circle cx="311.51" cy="113.22" r="0.36" fill="#ff9922"/>
<circle cx="313.10" cy="110.57" r="0.36" fill="#ff9922"/>
<circle cx="314.51" cy="107.82" r="0.36" fill="#ff9922"/>
<circle cx="316.88" cy="107.00" r="0.36" fill="#ff9922"/>
<circle cx="318.46" cy="109.65" r="0.36" fill="#ff9922"/>
<circle cx="319.87" cy="112.41" r="0.36" fill="#ff9922"/>
<circle cx="322.25" cy="113.18" r="0.36" fill="#ff9922"/>
<circle cx="249.00" cy="58.50" r="0.36" fill="#22cc22"/>
<circle cx="252.10" cy="58.50" r="0.36" fill="#22cc22"/>
<circle cx="255.20" cy="58.50" r="0.36" fill="#22cc22"/>
<circle cx="258.30" cy="58.50" r="0.36" fill="#22cc22"/>
<circle cx="261.06" cy="59.49" r="0.36" fill="#22cc22"/>
<circle cx="262.74" cy="57.12" r="0.36" fill="#22cc22"/>
<circle cx="264.40" cy="56.30" r="0.36" fill="#22cc22"/>
<circle cx="266.23" cy="58.80" r="0.36" fill="#22cc22"/>
<circle cx="268.15" cy="61.23" r="0.36" fill="#22cc22"/>
<circle cx="269.76" cy="59.73" r="0.36" fill="#22cc22"/>
<circle cx="271.28" cy="57.03" r="0.36" fill="#22cc22"/>
<circle cx="272.88" cy="56.42" r="0.36" fill="#22cc22"/>
<circle cx="274.68" cy="58.95" r="0.36" fill="#22cc22"/>
<circle cx="276.53" cy="61.44" r="0.36" fill="#22cc22"/>
<circle cx="278.01" cy="59.45" r="0.36" fill="#22cc22"/>
<circle cx="279.43" cy="56.69" r="0.36" fill="#22cc22"/>
<circle cx="281.01" cy="56.37" r="0.36" fill="#22cc22"/>
<circle cx="282.81" cy="58.90" r="0.36" fill="#22cc22"/>
<circle cx="284.62" cy="61.41" r="0.36" fill="#22cc22"/>
<circle cx="286.09" cy="61.70" r="0.36" fill="#22cc22"/>
<circle cx="287.03" cy="58.75" r="0.36" fill="#22cc22"/>
<circle cx="287.98" cy="55.80" r="0.36" fill="#22cc22"/>
<circle cx="288.63" cy="56.22" r="0.36" fill="#22cc22"/>
<circle cx="289.04" cy="59.29" r="0.36" fill="#22cc22"/>
<circle cx="289.30" cy="58.62" r="0.36" fill="#22cc22"/>
<circle cx="289.47" cy="55.52" r="0.36" fill="#22cc22"/>
<circle cx="289.64" cy="52.43" r="0.36" fill="#22cc22"/>
<circle cx="289.80" cy="49.33" r="0.36" fill="#22cc22"/>
<circle cx="289.97" cy="46.24" r="0.36" fill="#22cc22"/>
<circle cx="290.21" cy="48.25" r="0.36" fill="#22cc22"/>
<circle cx="290.47" cy="51.34" r="0.36" fill="#22cc22"/>
<circle cx="290.72" cy="54.43" r="0.36" fill="#22cc22"/>
<circle cx="290.98" cy="57.52" r="0.36" fill="#22cc22"/>
<circle cx="291.23" cy="60.61" r="0.36" fill="#22cc22"/>
<circle cx="291.60" cy="59.11" r="0.36" fill="#22cc22"/>
<circle cx="292.00" cy="56.04" r="0.36" fill="#22cc22"/>
<circle cx="292.40" cy="52.96" r="0.36" fill="#22cc22"/>
<circle cx="292.72" cy="52.92" r="0.36" fill="#22cc22"/>
<circle cx="292.98" cy="56.01" r="0.36" fill="#22cc22"/>
<circle cx="293.23" cy="59.10" r="0.36" fill="#22cc22"/>
<circle cx="293.48" cy="62.19" r="0.36" fill="#22cc22"/>
<circle cx="293.73" cy="65.28" r="0.36" fill="#22cc22"/>
<circle cx="293.98" cy="68.37" r="0.36" fill="#22cc22"/>
<circle cx="294.17" cy="65.74" r="0.36" fill="#22cc22"/>
<circle cx="294.36" cy="62.64" r="0.36" fill="#22cc22"/>
<circle cx="294.55" cy="59.55" r="0.36" fill="#22cc22"/>
<circle cx="294.74" cy="56.46" r="0.36" fill="#22cc22"/>
<circle cx="294.93" cy="53.36" r="0.36" fill="#22cc22"/>
<circle cx="295.12" cy="50.27" r="0.36" fill="#22cc22"/>
<circle cx="295.31" cy="47.17" r="0.36" fill="#22cc22"/>
<circle cx="295.50" cy="47.32" r="0.36" fill="#22cc22"/>
<circle cx="295.68" cy="50.42" r="0.36" fill="#22cc22"/>
<circle cx="295.87" cy="53.51" r="0.36" fill="#22cc22"/>
<circle cx="296.05" cy="56.61" r="0.36" fill="#22cc22"/>
<circle cx="296.24" cy="59.70" r="0.36" fill="#22cc22"/>
<circle cx="296.43" cy="62.79" r="0.36" fill="#22cc22"/>
<circle cx="296.61" cy="65.51" r="0.36" fill="#22cc22"/>
<circle cx="296.80" cy="62.42" r="0.36" fill="#22cc22"/>
<circle cx="296.98" cy="59.32" r="0.36" fill="#22cc22"/>
<circle cx="297.17" cy="56.23" r="0.36" fill="#22cc22"/>
<circle cx="297.35" cy="53.13" r="0.36" fill="#22cc22"/>
<circle cx="297.54" cy="50.04" r="0.36" fill="#22cc22"/>
<circle cx="297.72" cy="46.94" r="0.36" fill="#22cc22"/>
<circle cx="297.91" cy="44.15" r="0.36" fill="#22cc22"/>
<circle cx="298.10" cy="47.24" r="0.36" fill="#22cc22"/>
<circle cx="298.28" cy="50.34" r="0.36" fill="#22cc22"/>
<circle cx="298.47" cy="53.43" r="0.36" fill="#22cc22"/>
<circle cx="298.66" cy="56.53" r="0.36" fill="#22cc22"/>
<circle cx="298.85" cy="59.62" r="0.36" fill="#22cc22"/>
<circle cx="299.03" cy="62.72" r="0.36" fill="#22cc22"/>
<circle cx="299.22" cy="65.81" r="0.36" fill="#22cc22"/>
<circle cx="299.46" cy="65.30" r="0.36" fill="#22cc22"/>
<circle cx="299.74" cy="62.21" r="0.36" fill="#22cc22"/>
<circle cx="300.01" cy="59.12" r="0.36" fill="#22cc22"/>
<circle cx="300.29" cy="56.04" r="0.36" fill="#22cc22"/>
<circle cx="300.56" cy="52.95" r="0.36" fill="#22cc22"/>
<circle cx="300.84" cy="52.94" r="0.36" fill="#22cc22"/>
<circle cx="301.13" cy="56.03" r="0.36" fill="#22cc22"/>
<circle cx="301.42" cy="59.11" r="0.36" fill="#22cc22"/>
<circle cx="301.57" cy="62.21" r="0.36" fill="#22cc22"/>
<circle cx="301.68" cy="65.31" r="0.36" fill="#22cc22"/>
<circle cx="301.78" cy="68.40" r="0.36" fill="#22cc22"/>
<circle cx="301.88" cy="71.50" r="0.36" fill="#22cc22"/>
<circle cx="301.99" cy="74.60" r="0.36" fill="#22cc22"/>
<circle cx="302.03" cy="77.70" r="0.36" fill="#22cc22"/>
<circle cx="302.06" cy="80.80" r="0.36" fill="#22cc22"/>
<circle cx="302.10" cy="83.90" r="0.36" fill="#22cc22"/>
<circle cx="302.13" cy="87.00" r="0.36" fill="#22cc22"/>
<circle cx="302.16" cy="90.10" r="0.36" fill="#22cc22"/>
<circle cx="302.20" cy="93.20" r="0.36" fill="#22cc22"/>
<circle cx="302.23" cy="96.30" r="0.36" fill="#22cc22"/>
<circle cx="302.26" cy="99.40" r="0.36" fill="#22cc22"/>
<circle cx="302.29" cy="102.50" r="0.36" fill="#22cc22"/>
<circle cx="302.33" cy="105.60" r="0.36" fill="#22cc22"/>
<circle cx="302.36" cy="108.70" r="0.36" fill="#22cc22"/>
<circle cx="302.39" cy="111.80" r="0.36" fill="#22cc22"/>
<circle cx="302.87" cy="109.74" r="0.36" fill="#22cc22"/>
<circle cx="304.36" cy="107.05" r="0.36" fill="#22cc22"/>
<circle cx="306.75" cy="107.75" r="0.36" fill="#22cc22"/>
<circle cx="308.17" cy="110.50" r="0.36" fill="#22cc22"/>
<circle cx="309.73" cy="113.16" r="0.36" fill="#22cc22"/>
<circle cx="312.12" cy="112.43" r="0.36" fill="#22cc22"/>
<circle cx="313.53" cy="109.67" r="0.36" fill="#22cc22"/>
<circle cx="315.10" cy="107.01" r="0.36" fill="#22cc22"/>
<circle cx="317.48" cy="107.80" r="0.36" fill="#22cc22"/>
<circle cx="318.89" cy="110.55" r="0.36" fill="#22cc22"/>
<circle cx="320.47" cy="113.20" r="0.36" fill="#22cc22"/>
<circle cx="245.20" cy="58.50" r="0.62" fill="#cc1111"/>
<circle cx="246.90" cy="58.50" r="0.62" fill="#cc1111"/>
<circle cx="248.60" cy="58.50" r="0.62" fill="#cc1111"/>
<circle cx="250.30" cy="58.50" r="0.62" fill="#cc1111"/>
<circle cx="252.00" cy="58.50" r="0.62" fill="#cc1111"/>
<circle cx="253.70" cy="58.50" r="0.62" fill="#cc1111"/>
<circle cx="255.40" cy="58.50" r="0.62" fill="#cc1111"/>
<circle cx="257.10" cy="58.50" r="0.62" fill="#cc1111"/>
<circle cx="258.80" cy="58.50" r="0.62" fill="#cc1111"/>
<line x1="246.50" y1="85.40" x2="259.60" y2="85.40" stroke="#444" stroke-width="0.55" stroke-dasharray="1.5 1"/>
<text x="262.10" y="86.30" stroke="#000" stroke-width="0.05" font-size="2.85" text-anchor="start" font-weight="bold" fill="#000" font-family='"Liberation Serif",serif'  textLength="12" lengthAdjust="spacingAndGlyphs">Reference</text>
<line x1="246.50" y1="88.90" x2="259.60" y2="88.90" stroke="#22dd22" stroke-width="0.55" />
<circle cx="253.00" cy="88.90" r="0.6" fill="#22dd22"/>
<text x="262.10" y="89.80" stroke="#000" stroke-width="0.05" font-size="2.85" text-anchor="start" font-weight="bold" fill="#000" font-family='"Liberation Serif",serif'  textLength="11" lengthAdjust="spacingAndGlyphs">AWENO</text>
<line x1="246.50" y1="92.20" x2="259.60" y2="92.20" stroke="#ff9922" stroke-width="0.55" />
<circle cx="253.00" cy="92.20" r="0.6" fill="#ff9922"/>
<text x="262.10" y="93.10" stroke="#000" stroke-width="0.05" font-size="2.85" text-anchor="start" font-weight="bold" fill="#000" font-family='"Liberation Serif",serif'  textLength="34" lengthAdjust="spacingAndGlyphs">AWENO-AMDAD (kq=0.012)</text>
<line x1="246.50" y1="95.50" x2="259.60" y2="95.50" stroke="#2222ee" stroke-width="0.55" />
<circle cx="253.00" cy="95.50" r="0.6" fill="#2222ee"/>
<text x="262.10" y="96.40" stroke="#000" stroke-width="0.05" font-size="2.85" text-anchor="start" font-weight="bold" fill="#000" font-family='"Liberation Serif",serif'  textLength="33" lengthAdjust="spacingAndGlyphs">AWENO-AMDAD (kq=0.005)</text>
<line x1="246.50" y1="98.90" x2="259.60" y2="98.90" stroke="#dd1111" stroke-width="0.55" />
<circle cx="253.00" cy="98.90" r="0.6" fill="#dd1111"/>
<text x="262.10" y="99.80" stroke="#000" stroke-width="0.05" font-size="2.85" text-anchor="start" font-weight="bold" fill="#000" font-family='"Liberation Serif",serif'  textLength="17.5" lengthAdjust="spacingAndGlyphs">AMDAD-ACU</text>
<line x1="349.00" y1="42.50" x2="349.00" y2="115.20" stroke="#444" stroke-width="0.6" />
<line x1="349.00" y1="115.20" x2="427.00" y2="115.20" stroke="#444" stroke-width="0.6" />
<line x1="349.00" y1="43.50" x2="350.20" y2="43.50" stroke="#444" stroke-width="0.5" />
<text x="347.80" y="44.40" stroke="#000" stroke-width="0.12" font-size="3.73" text-anchor="end" font-weight="bold" fill="#000" font-family='"Liberation Serif",serif' >5</text>
<line x1="349.00" y1="61.42" x2="350.20" y2="61.42" stroke="#444" stroke-width="0.5" />
<text x="347.80" y="62.32" stroke="#000" stroke-width="0.12" font-size="3.73" text-anchor="end" font-weight="bold" fill="#000" font-family='"Liberation Serif",serif' >4.5</text>
<line x1="349.00" y1="79.34" x2="350.20" y2="79.34" stroke="#444" stroke-width="0.5" />
<text x="347.80" y="80.24" stroke="#000" stroke-width="0.12" font-size="3.73" text-anchor="end" font-weight="bold" fill="#000" font-family='"Liberation Serif",serif' >4</text>
<line x1="349.00" y1="97.26" x2="350.20" y2="97.26" stroke="#444" stroke-width="0.5" />
<text x="347.80" y="98.16" stroke="#000" stroke-width="0.12" font-size="3.73" text-anchor="end" font-weight="bold" fill="#000" font-family='"Liberation Serif",serif' >3.5</text>
<line x1="349.00" y1="115.18" x2="350.20" y2="115.18" stroke="#444" stroke-width="0.5" />
<text x="347.80" y="116.08" stroke="#000" stroke-width="0.12" font-size="3.73" text-anchor="end" font-weight="bold" fill="#000" font-family='"Liberation Serif",serif' >3</text>
<line x1="349.00" y1="115.20" x2="349.00" y2="114.00" stroke="#444" stroke-width="0.5" />
<text x="349.00" y="119.00" stroke="#000" stroke-width="0.12" font-size="3.73" text-anchor="middle" font-weight="bold" fill="#000" font-family='"Liberation Serif",serif' >5.5</text>
<line x1="368.80" y1="115.20" x2="368.80" y2="114.00" stroke="#444" stroke-width="0.5" />
<text x="368.80" y="119.00" stroke="#000" stroke-width="0.12" font-size="3.73" text-anchor="middle" font-weight="bold" fill="#000" font-family='"Liberation Serif",serif' >6</text>
<line x1="388.60" y1="115.20" x2="388.60" y2="114.00" stroke="#444" stroke-width="0.5" />
<text x="388.60" y="119.00" stroke="#000" stroke-width="0.12" font-size="3.73" text-anchor="middle" font-weight="bold" fill="#000" font-family='"Liberation Serif",serif' >6.5</text>
<line x1="408.40" y1="115.20" x2="408.40" y2="114.00" stroke="#444" stroke-width="0.5" />
<text x="408.40" y="119.00" stroke="#000" stroke-width="0.12" font-size="3.73" text-anchor="middle" font-weight="bold" fill="#000" font-family='"Liberation Serif",serif' >7</text>
<line x1="428.20" y1="115.20" x2="428.20" y2="114.00" stroke="#444" stroke-width="0.5" />
<text x="428.20" y="119.00" stroke="#000" stroke-width="0.12" font-size="3.73" text-anchor="middle" font-weight="bold" fill="#000" font-family='"Liberation Serif",serif' >7.5</text>
<text x="386.00" y="124.20" stroke="#000" stroke-width="0.12" font-size="4.14" text-anchor="middle" font-weight="bold" fill="#000" font-family='"Liberation Serif",serif' >x</text>
<text x="342.60" y="79.80" stroke="#000" stroke-width="0.12" font-size="3.73" text-anchor="middle" font-weight="bold" fill="#000" font-family='"Liberation Serif",serif' transform="rotate(-90 342.6 79.8)">Density</text>
<path d="M349.00,83.00 L349.25,82.58 L349.57,81.92 L349.94,81.10 L350.35,80.19 L350.81,79.29 L351.29,78.46 L351.79,77.79 L352.29,77.35 L352.80,77.23 L353.30,77.50 L353.80,78.42 L354.33,80.03 L354.87,82.14 L355.43,84.53 L355.99,86.99 L356.56,89.30 L357.13,91.26 L357.70,92.65 L358.26,93.27 L358.80,92.90 L359.32,91.12 L359.82,87.92 L360.30,83.68 L360.78,78.83 L361.26,73.74 L361.75,68.82 L362.26,64.47 L362.80,61.08 L363.38,59.06 L364.00,58.80 L364.68,60.73 L365.43,64.66 L366.22,70.11 L367.03,76.55 L367.87,83.49 L368.71,90.42 L369.53,96.84 L370.33,102.25 L371.09,106.14 L371.80,108.00 L372.45,107.53 L373.06,105.08 L373.64,101.13 L374.19,96.18 L374.73,90.70 L375.26,85.19 L375.80,80.12 L376.34,76.00 L376.91,73.29 L377.50,72.50 L378.11,74.01 L378.74,77.52 L379.37,82.52 L380.01,88.47 L380.66,94.84 L381.31,101.11 L381.97,106.74 L382.64,111.20 L383.32,113.96 L384.00,114.50 L384.70,112.36 L385.43,107.84 L386.17,101.54 L386.93,94.05 L387.68,85.97 L388.43,77.89 L389.16,70.41 L389.88,64.12 L390.56,59.62 L391.20,57.50 L391.80,58.11 L392.35,61.02 L392.88,65.68 L393.38,71.51 L393.87,77.97 L394.35,84.49 L394.84,90.51 L395.33,95.48 L395.85,98.83 L396.40,100.00 L396.97,98.64 L397.56,95.13 L398.16,90.02 L398.77,83.86 L399.38,77.19 L400.00,70.56 L400.63,64.53 L401.25,59.65 L401.88,56.45 L402.50,55.50 L403.12,57.16 L403.74,61.06 L404.37,66.67 L404.99,73.41 L405.62,80.75 L406.25,88.13 L406.88,94.99 L407.52,100.80 L408.16,104.98 L408.80,107.00 L409.46,106.62 L410.13,104.28 L410.81,100.44 L411.50,95.57 L412.19,90.12 L412.87,84.57 L413.54,79.37 L414.18,74.98 L414.81,71.87 L415.40,70.50 L415.97,70.84 L416.54,72.41 L417.09,74.96 L417.62,78.25 L418.14,82.04 L418.63,86.09 L419.10,90.15 L419.53,93.98 L419.94,97.35 L420.30,100.00 L420.63,102.14 L420.92,104.14 L421.18,105.99 L421.40,107.69 L421.61,109.24 L421.78,110.65 L421.94,111.91 L422.07,113.02 L422.19,113.99 L422.30,114.80" fill="none" stroke="#777" stroke-width="0.48" stroke-dasharray="1.2 0.8"/>
<path d="M349.51,83.00 L349.75,82.70 L350.05,82.26 L350.40,81.73 L350.80,81.14 L351.23,80.53 L351.69,79.94 L352.17,79.42 L352.65,78.99 L353.14,78.71 L353.61,78.60 L354.08,78.73 L354.55,79.08 L355.03,79.60 L355.52,80.23 L356.02,80.91 L356.54,81.57 L357.08,82.16 L357.63,82.62 L358.21,82.88 L358.81,82.90 L359.44,82.52 L360.11,81.71 L360.81,80.61 L361.52,79.36 L362.25,78.09 L362.99,76.92 L363.73,76.00 L364.47,75.45 L365.20,75.40 L365.91,76.00 L366.61,77.50 L367.32,79.91 L368.03,82.99 L368.74,86.48 L369.45,90.13 L370.15,93.70 L370.83,96.93 L371.51,99.57 L372.17,101.38 L372.81,102.10 L373.43,101.47 L374.02,99.58 L374.59,96.78 L375.15,93.36 L375.70,89.65 L376.24,85.97 L376.79,82.64 L377.35,79.97 L377.92,78.28 L378.51,77.90 L379.11,79.16 L379.72,81.93 L380.33,85.79 L380.94,90.35 L381.57,95.20 L382.20,99.93 L382.83,104.14 L383.48,107.43 L384.14,109.38 L384.81,109.60 L385.50,107.70 L386.23,103.90 L386.97,98.67 L387.73,92.49 L388.49,85.84 L389.24,79.19 L389.98,73.02 L390.69,67.82 L391.37,64.05 L392.01,62.20 L392.60,62.53 L393.15,64.69 L393.66,68.24 L394.15,72.74 L394.62,77.74 L395.09,82.81 L395.57,87.51 L396.05,91.38 L396.56,93.99 L397.11,94.90 L397.69,93.83 L398.28,91.08 L398.89,87.09 L399.51,82.29 L400.14,77.09 L400.78,71.95 L401.42,67.27 L402.05,63.50 L402.69,61.07 L403.31,60.40 L403.93,61.79 L404.54,64.95 L405.16,69.45 L405.77,74.86 L406.38,80.74 L407.00,86.65 L407.62,92.17 L408.24,96.86 L408.87,100.28 L409.51,102.00 L410.16,101.84 L410.83,100.14 L411.51,97.28 L412.20,93.60 L412.89,89.48 L413.57,85.28 L414.24,81.36 L414.89,78.08 L415.52,75.81 L416.11,74.90 L416.68,75.34 L417.25,76.74 L417.80,78.92 L418.33,81.68 L418.85,84.83 L419.34,88.20 L419.81,91.58 L420.24,94.80 L420.65,97.67 L421.01,100.00 L421.34,101.96 L421.63,103.86 L421.89,105.66 L422.11,107.37 L422.32,108.97 L422.49,110.44 L422.65,111.77 L422.78,112.95 L422.90,113.97 L423.01,114.80" fill="none" stroke="#22dd22" stroke-width="0.64" />
<path d="M349.30,83.00 L349.54,82.70 L349.84,82.26 L350.19,81.73 L350.59,81.14 L351.03,80.53 L351.48,79.94 L351.96,79.42 L352.44,78.99 L352.93,78.71 L353.40,78.60 L353.87,78.74 L354.34,79.13 L354.82,79.70 L355.31,80.38 L355.81,81.09 L356.33,81.78 L356.87,82.38 L357.42,82.81 L358.00,83.01 L358.60,82.90 L359.23,82.30 L359.90,81.18 L360.60,79.70 L361.31,78.02 L362.04,76.31 L362.78,74.73 L363.52,73.45 L364.26,72.62 L364.99,72.42 L365.70,73.00 L366.40,74.67 L367.11,77.43 L367.82,80.99 L368.53,85.05 L369.24,89.32 L369.94,93.50 L370.62,97.30 L371.30,100.43 L371.96,102.60 L372.60,103.50 L373.22,102.85 L373.81,100.80 L374.38,97.69 L374.94,93.89 L375.49,89.75 L376.03,85.63 L376.58,81.89 L377.14,78.88 L377.71,76.97 L378.30,76.50 L378.90,77.84 L379.51,80.82 L380.12,85.00 L380.73,89.94 L381.36,95.20 L381.99,100.35 L382.62,104.94 L383.27,108.54 L383.93,110.70 L384.60,111.00 L385.29,109.02 L386.02,105.01 L386.76,99.47 L387.52,92.90 L388.28,85.84 L389.03,78.78 L389.77,72.23 L390.48,66.71 L391.16,62.73 L391.80,60.80 L392.39,61.21 L392.94,63.58 L393.45,67.44 L393.94,72.32 L394.41,77.74 L394.88,83.23 L395.36,88.30 L395.84,92.49 L396.35,95.31 L396.90,96.30 L397.48,95.15 L398.07,92.19 L398.68,87.89 L399.30,82.70 L399.93,77.09 L400.57,71.53 L401.21,66.48 L401.84,62.40 L402.48,59.75 L403.10,59.00 L403.72,60.47 L404.33,63.84 L404.95,68.66 L405.56,74.44 L406.18,80.74 L406.79,87.07 L407.41,92.97 L408.03,97.97 L408.66,101.60 L409.30,103.40 L409.95,103.17 L410.62,101.27 L411.30,98.11 L411.99,94.08 L412.68,89.57 L413.36,84.97 L414.03,80.67 L414.68,77.06 L415.31,74.54 L415.90,73.50 L416.47,73.92 L417.04,75.38 L417.59,77.67 L418.12,80.60 L418.64,83.96 L419.13,87.54 L419.60,91.13 L420.03,94.55 L420.44,97.57 L420.80,100.00 L421.13,102.02 L421.42,103.95 L421.68,105.77 L421.90,107.47 L422.11,109.06 L422.28,110.51 L422.44,111.82 L422.57,112.97 L422.69,113.97 L422.80,114.80" fill="none" stroke="#ff9922" stroke-width="0.56" />
<path d="M349.15,83.00 L349.39,82.70 L349.69,82.26 L350.04,81.73 L350.44,81.14 L350.87,80.53 L351.33,79.94 L351.81,79.42 L352.29,78.99 L352.78,78.71 L353.25,78.60 L353.72,78.73 L354.19,79.10 L354.67,79.63 L355.16,80.28 L355.66,80.97 L356.18,81.64 L356.72,82.23 L357.27,82.68 L357.85,82.92 L358.45,82.90 L359.08,82.44 L359.75,81.50 L360.45,80.25 L361.16,78.82 L361.89,77.38 L362.63,76.05 L363.37,75.01 L364.11,74.38 L364.84,74.33 L365.55,75.00 L366.25,76.70 L366.96,79.44 L367.67,82.94 L368.38,86.92 L369.09,91.07 L369.79,95.12 L370.47,98.77 L371.15,101.75 L371.81,103.75 L372.45,104.50 L373.07,103.67 L373.66,101.40 L374.23,98.04 L374.79,93.97 L375.34,89.56 L375.88,85.19 L376.43,81.23 L376.99,78.04 L377.56,76.01 L378.15,75.50 L378.75,76.90 L379.36,80.03 L379.97,84.43 L380.58,89.64 L381.21,95.20 L381.84,100.64 L382.47,105.51 L383.12,109.33 L383.78,111.65 L384.45,112.00 L385.14,109.97 L385.87,105.80 L386.61,100.03 L387.37,93.20 L388.12,85.84 L388.88,78.48 L389.62,71.66 L390.33,65.92 L391.01,61.79 L391.65,59.80 L392.24,60.26 L392.79,62.79 L393.30,66.88 L393.79,72.03 L394.26,77.74 L394.73,83.52 L395.21,88.87 L395.69,93.28 L396.20,96.26 L396.75,97.30 L397.33,96.09 L397.92,92.98 L398.53,88.46 L399.15,83.00 L399.78,77.09 L400.42,71.24 L401.06,65.91 L401.69,61.60 L402.33,58.80 L402.95,58.00 L403.57,59.52 L404.18,63.05 L404.80,68.09 L405.41,74.15 L406.02,80.74 L406.64,87.36 L407.26,93.54 L407.88,98.76 L408.51,102.55 L409.15,104.40 L409.80,104.11 L410.47,102.08 L411.15,98.71 L411.84,94.43 L412.53,89.63 L413.21,84.74 L413.88,80.17 L414.53,76.33 L415.16,73.64 L415.75,72.50 L416.32,72.90 L416.89,74.40 L417.44,76.78 L417.97,79.83 L418.49,83.33 L418.98,87.06 L419.45,90.81 L419.88,94.36 L420.29,97.50 L420.65,100.00 L420.98,102.06 L421.27,104.01 L421.53,105.84 L421.75,107.54 L421.96,109.12 L422.13,110.56 L422.29,111.85 L422.42,112.99 L422.54,113.98 L422.65,114.80" fill="none" stroke="#2222ee" stroke-width="0.56" />
<path d="M349.00,83.00 L349.24,82.70 L349.54,82.26 L349.89,81.73 L350.29,81.14 L350.72,80.53 L351.18,79.94 L351.66,79.42 L352.14,78.99 L352.63,78.71 L353.10,78.60 L353.57,78.77 L354.04,79.22 L354.52,79.86 L355.01,80.63 L355.51,81.42 L356.03,82.17 L356.57,82.77 L357.12,83.15 L357.70,83.22 L358.30,82.90 L358.93,81.93 L359.60,80.26 L360.30,78.10 L361.01,75.68 L361.74,73.21 L362.48,70.90 L363.22,68.98 L363.96,67.66 L364.69,67.16 L365.40,67.70 L366.10,69.64 L366.81,72.97 L367.52,77.31 L368.23,82.31 L368.94,87.59 L369.64,92.79 L370.32,97.55 L371.00,101.50 L371.66,104.27 L372.30,105.50 L372.92,104.87 L373.51,102.59 L374.08,99.07 L374.64,94.72 L375.19,89.96 L375.73,85.20 L376.28,80.86 L376.84,77.35 L377.41,75.09 L378.00,74.50 L378.60,75.95 L379.21,79.24 L379.82,83.86 L380.43,89.35 L381.06,95.20 L381.69,100.94 L382.32,106.07 L382.97,110.12 L383.63,112.59 L384.30,113.00 L384.99,110.91 L385.72,106.59 L386.46,100.60 L387.22,93.50 L387.98,85.84 L388.73,78.18 L389.47,71.09 L390.18,65.13 L390.86,60.84 L391.50,58.80 L392.09,59.32 L392.64,62.00 L393.15,66.31 L393.64,71.73 L394.11,77.74 L394.58,83.82 L395.06,89.44 L395.54,94.07 L396.05,97.20 L396.60,98.30 L397.18,97.04 L397.77,93.78 L398.38,89.02 L399.00,83.29 L399.63,77.09 L400.27,70.94 L400.91,65.34 L401.54,60.81 L402.18,57.86 L402.80,57.00 L403.42,58.58 L404.03,62.26 L404.65,67.52 L405.26,73.85 L405.88,80.74 L406.49,87.66 L407.11,94.10 L407.73,99.55 L408.36,103.49 L409.00,105.40 L409.65,105.06 L410.32,102.89 L411.00,99.31 L411.69,94.77 L412.38,89.69 L413.06,84.52 L413.73,79.68 L414.38,75.60 L415.01,72.73 L415.60,71.50 L416.17,71.88 L416.74,73.43 L417.29,75.90 L417.82,79.06 L418.34,82.71 L418.83,86.59 L419.30,90.49 L419.73,94.18 L420.14,97.42 L420.50,100.00 L420.83,102.10 L421.12,104.07 L421.38,105.91 L421.60,107.62 L421.81,109.18 L421.98,110.60 L422.14,111.88 L422.27,113.01 L422.39,113.98 L422.50,114.80" fill="none" stroke="#dd1111" stroke-width="0.56" />
<circle cx="350.90" cy="80.31" r="0.4" fill="#2222dd"/>
<circle cx="353.52" cy="78.75" r="0.4" fill="#2222dd"/>
<circle cx="355.48" cy="81.37" r="0.4" fill="#2222dd"/>
<circle cx="357.94" cy="83.09" r="0.4" fill="#2222dd"/>
<circle cx="359.58" cy="80.32" r="0.4" fill="#2222dd"/>
<circle cx="360.57" cy="77.18" r="0.4" fill="#2222dd"/>
<circle cx="361.51" cy="74.01" r="0.4" fill="#2222dd"/>
<circle cx="362.50" cy="70.86" r="0.4" fill="#2222dd"/>
<circle cx="363.85" cy="67.86" r="0.4" fill="#2222dd"/>
<circle cx="365.84" cy="68.92" r="0.4" fill="#2222dd"/>
<circle cx="366.63" cy="72.12" r="0.4" fill="#2222dd"/>
<circle cx="367.20" cy="75.37" r="0.4" fill="#2222dd"/>
<circle cx="367.71" cy="78.63" r="0.4" fill="#2222dd"/>
<circle cx="368.17" cy="81.89" r="0.4" fill="#2222dd"/>
<circle cx="368.61" cy="85.16" r="0.4" fill="#2222dd"/>
<circle cx="369.05" cy="88.44" r="0.4" fill="#2222dd"/>
<circle cx="369.49" cy="91.71" r="0.4" fill="#2222dd"/>
<circle cx="369.95" cy="94.97" r="0.4" fill="#2222dd"/>
<circle cx="370.44" cy="98.24" r="0.4" fill="#2222dd"/>
<circle cx="371.00" cy="101.49" r="0.4" fill="#2222dd"/>
<circle cx="371.86" cy="104.66" r="0.4" fill="#2222dd"/>
<circle cx="373.29" cy="103.44" r="0.4" fill="#2222dd"/>
<circle cx="373.89" cy="100.20" r="0.4" fill="#2222dd"/>
<circle cx="374.35" cy="96.94" r="0.4" fill="#2222dd"/>
<circle cx="374.76" cy="93.66" r="0.4" fill="#2222dd"/>
<circle cx="375.14" cy="90.38" r="0.4" fill="#2222dd"/>
<circle cx="375.52" cy="87.10" r="0.4" fill="#2222dd"/>
<circle cx="375.91" cy="83.83" r="0.4" fill="#2222dd"/>
<circle cx="376.33" cy="80.56" r="0.4" fill="#2222dd"/>
<circle cx="376.85" cy="77.30" r="0.4" fill="#2222dd"/>
<circle cx="378.07" cy="74.68" r="0.4" fill="#2222dd"/>
<circle cx="378.95" cy="77.84" r="0.4" fill="#2222dd"/>
<circle cx="379.45" cy="81.10" r="0.4" fill="#2222dd"/>
<circle cx="379.87" cy="84.37" r="0.4" fill="#2222dd"/>
<circle cx="380.24" cy="87.65" r="0.4" fill="#2222dd"/>
<circle cx="380.60" cy="90.93" r="0.4" fill="#2222dd"/>
<circle cx="380.95" cy="94.21" r="0.4" fill="#2222dd"/>
<circle cx="381.31" cy="97.49" r="0.4" fill="#2222dd"/>
<circle cx="381.67" cy="100.77" r="0.4" fill="#2222dd"/>
<circle cx="382.07" cy="104.05" r="0.4" fill="#2222dd"/>
<circle cx="382.52" cy="107.32" r="0.4" fill="#2222dd"/>
<circle cx="383.09" cy="110.57" r="0.4" fill="#2222dd"/>
<circle cx="384.43" cy="112.60" r="0.4" fill="#2222dd"/>
<circle cx="385.24" cy="109.41" r="0.4" fill="#2222dd"/>
<circle cx="385.77" cy="106.15" r="0.4" fill="#2222dd"/>
<circle cx="386.18" cy="102.88" r="0.4" fill="#2222dd"/>
<circle cx="386.57" cy="99.60" r="0.4" fill="#2222dd"/>
<circle cx="386.92" cy="96.32" r="0.4" fill="#2222dd"/>
<circle cx="387.26" cy="93.04" r="0.4" fill="#2222dd"/>
<circle cx="387.59" cy="89.76" r="0.4" fill="#2222dd"/>
<circle cx="387.91" cy="86.47" r="0.4" fill="#2222dd"/>
<circle cx="388.24" cy="83.19" r="0.4" fill="#2222dd"/>
<circle cx="388.56" cy="79.90" r="0.4" fill="#2222dd"/>
<circle cx="388.89" cy="76.62" r="0.4" fill="#2222dd"/>
<circle cx="389.23" cy="73.34" r="0.4" fill="#2222dd"/>
<circle cx="389.59" cy="70.06" r="0.4" fill="#2222dd"/>
<circle cx="389.98" cy="66.78" r="0.4" fill="#2222dd"/>
<circle cx="390.44" cy="63.51" r="0.4" fill="#2222dd"/>
<circle cx="391.04" cy="60.27" r="0.4" fill="#2222dd"/>
<circle cx="392.28" cy="60.27" r="0.4" fill="#2222dd"/>
<circle cx="392.82" cy="63.52" r="0.4" fill="#2222dd"/>
<circle cx="393.19" cy="66.80" r="0.4" fill="#2222dd"/>
<circle cx="393.49" cy="70.09" r="0.4" fill="#2222dd"/>
<circle cx="393.77" cy="73.38" r="0.4" fill="#2222dd"/>
<circle cx="394.03" cy="76.67" r="0.4" fill="#2222dd"/>
<circle cx="394.28" cy="79.96" r="0.4" fill="#2222dd"/>
<circle cx="394.54" cy="83.25" r="0.4" fill="#2222dd"/>
<circle cx="394.81" cy="86.54" r="0.4" fill="#2222dd"/>
<circle cx="395.10" cy="89.82" r="0.4" fill="#2222dd"/>
<circle cx="395.44" cy="93.10" r="0.4" fill="#2222dd"/>
<circle cx="395.92" cy="96.37" r="0.4" fill="#2222dd"/>
<circle cx="397.11" cy="97.18" r="0.4" fill="#2222dd"/>
<circle cx="397.74" cy="93.95" r="0.4" fill="#2222dd"/>
<circle cx="398.17" cy="90.67" r="0.4" fill="#2222dd"/>
<circle cx="398.56" cy="87.40" r="0.4" fill="#2222dd"/>
<circle cx="398.91" cy="84.12" r="0.4" fill="#2222dd"/>
<circle cx="399.25" cy="80.83" r="0.4" fill="#2222dd"/>
<circle cx="399.58" cy="77.55" r="0.4" fill="#2222dd"/>
<circle cx="399.92" cy="74.27" r="0.4" fill="#2222dd"/>
<circle cx="400.26" cy="70.99" r="0.4" fill="#2222dd"/>
<circle cx="400.64" cy="67.71" r="0.4" fill="#2222dd"/>
<circle cx="401.03" cy="64.43" r="0.4" fill="#2222dd"/>
<circle cx="401.49" cy="61.16" r="0.4" fill="#2222dd"/>
<circle cx="402.16" cy="57.93" r="0.4" fill="#2222dd"/>
<circle cx="403.50" cy="59.04" r="0.4" fill="#2222dd"/>
<circle cx="404.04" cy="62.30" r="0.4" fill="#2222dd"/>
<circle cx="404.42" cy="65.57" r="0.4" fill="#2222dd"/>
<circle cx="404.78" cy="68.85" r="0.4" fill="#2222dd"/>
<circle cx="405.09" cy="72.14" r="0.4" fill="#2222dd"/>
<circle cx="405.40" cy="75.42" r="0.4" fill="#2222dd"/>
<circle cx="405.69" cy="78.71" r="0.4" fill="#2222dd"/>
<circle cx="405.99" cy="82.00" r="0.4" fill="#2222dd"/>
<circle cx="406.28" cy="85.28" r="0.4" fill="#2222dd"/>
<circle cx="406.58" cy="88.57" r="0.4" fill="#2222dd"/>
<circle cx="406.89" cy="91.86" r="0.4" fill="#2222dd"/>
<circle cx="407.23" cy="95.14" r="0.4" fill="#2222dd"/>
<circle cx="407.60" cy="98.42" r="0.4" fill="#2222dd"/>
<circle cx="408.08" cy="101.68" r="0.4" fill="#2222dd"/>
<circle cx="408.83" cy="104.88" r="0.4" fill="#2222dd"/>
<circle cx="410.25" cy="103.13" r="0.4" fill="#2222dd"/>
<circle cx="410.89" cy="99.89" r="0.4" fill="#2222dd"/>
<circle cx="411.41" cy="96.64" r="0.4" fill="#2222dd"/>
<circle cx="411.88" cy="93.37" r="0.4" fill="#2222dd"/>
<circle cx="412.33" cy="90.10" r="0.4" fill="#2222dd"/>
<circle cx="412.76" cy="86.83" r="0.4" fill="#2222dd"/>
<circle cx="413.20" cy="83.56" r="0.4" fill="#2222dd"/>
<circle cx="413.65" cy="80.29" r="0.4" fill="#2222dd"/>
<circle cx="414.16" cy="77.03" r="0.4" fill="#2222dd"/>
<circle cx="414.78" cy="73.79" r="0.4" fill="#2222dd"/>
<circle cx="416.23" cy="72.04" r="0.4" fill="#2222dd"/>
<circle cx="417.13" cy="75.20" r="0.4" fill="#2222dd"/>
<circle cx="417.72" cy="78.45" r="0.4" fill="#2222dd"/>
<circle cx="418.20" cy="81.72" r="0.4" fill="#2222dd"/>
<circle cx="418.63" cy="84.99" r="0.4" fill="#2222dd"/>
<circle cx="419.03" cy="88.26" r="0.4" fill="#2222dd"/>
<circle cx="419.42" cy="91.54" r="0.4" fill="#2222dd"/>
<circle cx="419.81" cy="94.82" r="0.4" fill="#2222dd"/>
<circle cx="420.23" cy="98.09" r="0.4" fill="#2222dd"/>
<circle cx="420.71" cy="101.35" r="0.4" fill="#2222dd"/>
<circle cx="421.19" cy="104.62" r="0.4" fill="#2222dd"/>
<circle cx="421.64" cy="107.89" r="0.4" fill="#2222dd"/>
<circle cx="422.05" cy="111.16" r="0.4" fill="#2222dd"/>
<circle cx="422.45" cy="114.44" r="0.4" fill="#2222dd"/>
<circle cx="351.62" cy="79.47" r="0.36" fill="#ff9922"/>
<circle cx="354.27" cy="79.53" r="0.36" fill="#ff9922"/>
<circle cx="356.12" cy="82.27" r="0.36" fill="#ff9922"/>
<circle cx="358.68" cy="82.32" r="0.36" fill="#ff9922"/>
<circle cx="359.92" cy="79.28" r="0.36" fill="#ff9922"/>
<circle cx="360.88" cy="76.12" r="0.36" fill="#ff9922"/>
<circle cx="361.82" cy="72.96" r="0.36" fill="#ff9922"/>
<circle cx="362.89" cy="69.84" r="0.36" fill="#ff9922"/>
<circle cx="364.68" cy="67.17" r="0.36" fill="#ff9922"/>
<circle cx="366.17" cy="69.96" r="0.36" fill="#ff9922"/>
<circle cx="366.85" cy="73.19" r="0.36" fill="#ff9922"/>
<circle cx="367.38" cy="76.45" r="0.36" fill="#ff9922"/>
<circle cx="367.86" cy="79.72" r="0.36" fill="#ff9922"/>
<circle cx="368.32" cy="82.98" r="0.36" fill="#ff9922"/>
<circle cx="368.76" cy="86.25" r="0.36" fill="#ff9922"/>
<circle cx="369.20" cy="89.53" r="0.36" fill="#ff9922"/>
<circle cx="369.64" cy="92.80" r="0.36" fill="#ff9922"/>
<circle cx="370.11" cy="96.06" r="0.36" fill="#ff9922"/>
<circle cx="370.63" cy="99.32" r="0.36" fill="#ff9922"/>
<circle cx="371.25" cy="102.56" r="0.36" fill="#ff9922"/>
<circle cx="372.41" cy="105.39" r="0.36" fill="#ff9922"/>
<circle cx="373.54" cy="102.38" r="0.36" fill="#ff9922"/>
<circle cx="374.07" cy="99.12" r="0.36" fill="#ff9922"/>
<circle cx="374.49" cy="95.84" r="0.36" fill="#ff9922"/>
<circle cx="374.89" cy="92.57" r="0.36" fill="#ff9922"/>
<circle cx="375.26" cy="89.29" r="0.36" fill="#ff9922"/>
<circle cx="375.64" cy="86.01" r="0.36" fill="#ff9922"/>
<circle cx="376.05" cy="82.74" r="0.36" fill="#ff9922"/>
<circle cx="376.50" cy="79.47" r="0.36" fill="#ff9922"/>
<circle cx="377.12" cy="76.23" r="0.36" fill="#ff9922"/>
<circle cx="378.49" cy="75.69" r="0.36" fill="#ff9922"/>
<circle cx="379.15" cy="78.92" r="0.36" fill="#ff9922"/>
<circle cx="379.60" cy="82.19" r="0.36" fill="#ff9922"/>
<circle cx="380.00" cy="85.47" r="0.36" fill="#ff9922"/>
<circle cx="380.37" cy="88.75" r="0.36" fill="#ff9922"/>
<circle cx="380.72" cy="92.03" r="0.36" fill="#ff9922"/>
<circle cx="381.07" cy="95.31" r="0.36" fill="#ff9922"/>
<circle cx="381.43" cy="98.59" r="0.36" fill="#ff9922"/>
<circle cx="381.80" cy="101.87" r="0.36" fill="#ff9922"/>
<circle cx="382.21" cy="105.14" r="0.36" fill="#ff9922"/>
<circle cx="382.70" cy="108.40" r="0.36" fill="#ff9922"/>
<circle cx="383.37" cy="111.63" r="0.36" fill="#ff9922"/>
<circle cx="384.78" cy="111.56" r="0.36" fill="#ff9922"/>
<circle cx="385.43" cy="108.33" r="0.36" fill="#ff9922"/>
<circle cx="385.91" cy="105.06" r="0.36" fill="#ff9922"/>
<circle cx="386.31" cy="101.79" r="0.36" fill="#ff9922"/>
<circle cx="386.68" cy="98.51" r="0.36" fill="#ff9922"/>
<circle cx="387.03" cy="95.23" r="0.36" fill="#ff9922"/>
<circle cx="387.37" cy="91.94" r="0.36" fill="#ff9922"/>
<circle cx="387.70" cy="88.66" r="0.36" fill="#ff9922"/>
<circle cx="388.02" cy="85.38" r="0.36" fill="#ff9922"/>
<circle cx="388.34" cy="82.09" r="0.36" fill="#ff9922"/>
<circle cx="388.67" cy="78.81" r="0.36" fill="#ff9922"/>
<circle cx="389.00" cy="75.53" r="0.36" fill="#ff9922"/>
<circle cx="389.35" cy="72.24" r="0.36" fill="#ff9922"/>
<circle cx="389.72" cy="68.96" r="0.36" fill="#ff9922"/>
<circle cx="390.11" cy="65.69" r="0.36" fill="#ff9922"/>
<circle cx="390.61" cy="62.43" r="0.36" fill="#ff9922"/>
<circle cx="391.37" cy="59.22" r="0.36" fill="#ff9922"/>
<circle cx="392.50" cy="61.35" r="0.36" fill="#ff9922"/>
<circle cx="392.95" cy="64.62" r="0.36" fill="#ff9922"/>
<circle cx="393.29" cy="67.90" r="0.36" fill="#ff9922"/>
<circle cx="393.59" cy="71.18" r="0.36" fill="#ff9922"/>
<circle cx="393.85" cy="74.47" r="0.36" fill="#ff9922"/>
<circle cx="394.11" cy="77.76" r="0.36" fill="#ff9922"/>
<circle cx="394.37" cy="81.05" r="0.36" fill="#ff9922"/>
<circle cx="394.63" cy="84.34" r="0.36" fill="#ff9922"/>
<circle cx="394.90" cy="87.63" r="0.36" fill="#ff9922"/>
<circle cx="395.21" cy="90.92" r="0.36" fill="#ff9922"/>
<circle cx="395.56" cy="94.20" r="0.36" fill="#ff9922"/>
<circle cx="396.17" cy="97.43" r="0.36" fill="#ff9922"/>
<circle cx="397.34" cy="96.11" r="0.36" fill="#ff9922"/>
<circle cx="397.89" cy="92.86" r="0.36" fill="#ff9922"/>
<circle cx="398.31" cy="89.58" r="0.36" fill="#ff9922"/>
<circle cx="398.67" cy="86.30" r="0.36" fill="#ff9922"/>
<circle cx="399.03" cy="83.02" r="0.36" fill="#ff9922"/>
<circle cx="399.36" cy="79.74" r="0.36" fill="#ff9922"/>
<circle cx="399.70" cy="76.46" r="0.36" fill="#ff9922"/>
<circle cx="400.04" cy="73.17" r="0.36" fill="#ff9922"/>
<circle cx="400.39" cy="69.89" r="0.36" fill="#ff9922"/>
<circle cx="400.76" cy="66.61" r="0.36" fill="#ff9922"/>
<circle cx="401.19" cy="63.34" r="0.36" fill="#ff9922"/>
<circle cx="401.70" cy="60.08" r="0.36" fill="#ff9922"/>
<circle cx="402.78" cy="57.03" r="0.36" fill="#ff9922"/>
<circle cx="403.68" cy="60.12" r="0.36" fill="#ff9922"/>
<circle cx="404.17" cy="63.39" r="0.36" fill="#ff9922"/>
<circle cx="404.55" cy="66.67" r="0.36" fill="#ff9922"/>
<circle cx="404.88" cy="69.95" r="0.36" fill="#ff9922"/>
<circle cx="405.20" cy="73.23" r="0.36" fill="#ff9922"/>
<circle cx="405.50" cy="76.52" r="0.36" fill="#ff9922"/>
<circle cx="405.79" cy="79.81" r="0.36" fill="#ff9922"/>
<circle cx="406.08" cy="83.09" r="0.36" fill="#ff9922"/>
<circle cx="406.38" cy="86.38" r="0.36" fill="#ff9922"/>
<circle cx="406.68" cy="89.67" r="0.36" fill="#ff9922"/>
<circle cx="407.00" cy="92.95" r="0.36" fill="#ff9922"/>
<circle cx="407.35" cy="96.23" r="0.36" fill="#ff9922"/>
<circle cx="407.73" cy="99.51" r="0.36" fill="#ff9922"/>
<circle cx="408.25" cy="102.77" r="0.36" fill="#ff9922"/>
<circle cx="409.49" cy="105.14" r="0.36" fill="#ff9922"/>
<circle cx="410.48" cy="102.06" r="0.36" fill="#ff9922"/>
<circle cx="411.08" cy="98.81" r="0.36" fill="#ff9922"/>
<circle cx="411.57" cy="95.55" r="0.36" fill="#ff9922"/>
<circle cx="412.03" cy="92.28" r="0.36" fill="#ff9922"/>
<circle cx="412.47" cy="89.01" r="0.36" fill="#ff9922"/>
<circle cx="412.90" cy="85.74" r="0.36" fill="#ff9922"/>
<circle cx="413.35" cy="82.47" r="0.36" fill="#ff9922"/>
<circle cx="413.81" cy="79.20" r="0.36" fill="#ff9922"/>
<circle cx="414.33" cy="75.94" r="0.36" fill="#ff9922"/>
<circle cx="415.02" cy="72.71" r="0.36" fill="#ff9922"/>
<circle cx="416.61" cy="73.07" r="0.36" fill="#ff9922"/>
<circle cx="417.35" cy="76.28" r="0.36" fill="#ff9922"/>
<circle cx="417.89" cy="79.54" r="0.36" fill="#ff9922"/>
<circle cx="418.35" cy="82.81" r="0.36" fill="#ff9922"/>
<circle cx="418.77" cy="86.08" r="0.36" fill="#ff9922"/>
<circle cx="419.16" cy="89.36" r="0.36" fill="#ff9922"/>
<circle cx="419.55" cy="92.63" r="0.36" fill="#ff9922"/>
<circle cx="419.95" cy="95.91" r="0.36" fill="#ff9922"/>
<circle cx="420.38" cy="99.18" r="0.36" fill="#ff9922"/>
<circle cx="420.88" cy="102.44" r="0.36" fill="#ff9922"/>
<circle cx="421.35" cy="105.71" r="0.36" fill="#ff9922"/>
<circle cx="421.78" cy="108.98" r="0.36" fill="#ff9922"/>
<circle cx="422.18" cy="112.25" r="0.36" fill="#ff9922"/>
<circle cx="352.48" cy="78.80" r="0.36" fill="#22cc22"/>
<circle cx="354.89" cy="80.44" r="0.36" fill="#22cc22"/>
<circle cx="356.92" cy="83.01" r="0.36" fill="#22cc22"/>
<circle cx="359.17" cy="81.34" r="0.36" fill="#22cc22"/>
<circle cx="360.26" cy="78.23" r="0.36" fill="#22cc22"/>
<circle cx="361.19" cy="75.07" r="0.36" fill="#22cc22"/>
<circle cx="362.16" cy="71.91" r="0.36" fill="#22cc22"/>
<circle cx="363.31" cy="68.82" r="0.36" fill="#22cc22"/>
<circle cx="365.47" cy="67.88" r="0.36" fill="#22cc22"/>
<circle cx="366.40" cy="71.04" r="0.36" fill="#22cc22"/>
<circle cx="367.03" cy="74.28" r="0.36" fill="#22cc22"/>
<circle cx="367.55" cy="77.54" r="0.36" fill="#22cc22"/>
<circle cx="368.02" cy="80.80" r="0.36" fill="#22cc22"/>
<circle cx="368.47" cy="84.07" r="0.36" fill="#22cc22"/>
<circle cx="368.91" cy="87.34" r="0.36" fill="#22cc22"/>
<circle cx="369.34" cy="90.62" r="0.36" fill="#22cc22"/>
<circle cx="369.79" cy="93.88" r="0.36" fill="#22cc22"/>
<circle cx="370.27" cy="97.15" r="0.36" fill="#22cc22"/>
<circle cx="370.81" cy="100.40" r="0.36" fill="#22cc22"/>
<circle cx="371.51" cy="103.63" r="0.36" fill="#22cc22"/>
<circle cx="373.01" cy="104.51" r="0.36" fill="#22cc22"/>
<circle cx="373.72" cy="101.29" r="0.36" fill="#22cc22"/>
<circle cx="374.21" cy="98.03" r="0.36" fill="#22cc22"/>
<circle cx="374.63" cy="94.75" r="0.36" fill="#22cc22"/>
<circle cx="375.01" cy="91.48" r="0.36" fill="#22cc22"/>
<circle cx="375.39" cy="88.20" r="0.36" fill="#22cc22"/>
<circle cx="375.77" cy="84.92" r="0.36" fill="#22cc22"/>
<circle cx="376.18" cy="81.65" r="0.36" fill="#22cc22"/>
<circle cx="376.68" cy="78.38" r="0.36" fill="#22cc22"/>
<circle cx="377.39" cy="75.16" r="0.36" fill="#22cc22"/>
<circle cx="378.75" cy="76.76" r="0.36" fill="#22cc22"/>
<circle cx="379.31" cy="80.01" r="0.36" fill="#22cc22"/>
<circle cx="379.74" cy="83.28" r="0.36" fill="#22cc22"/>
<circle cx="380.12" cy="86.56" r="0.36" fill="#22cc22"/>
<circle cx="380.49" cy="89.84" r="0.36" fill="#22cc22"/>
<circle cx="380.84" cy="93.12" r="0.36" fill="#22cc22"/>
<circle cx="381.19" cy="96.40" r="0.36" fill="#22cc22"/>
<circle cx="381.55" cy="99.68" r="0.36" fill="#22cc22"/>
<circle cx="381.94" cy="102.96" r="0.36" fill="#22cc22"/>
<circle cx="382.35" cy="106.23" r="0.36" fill="#22cc22"/>
<circle cx="382.87" cy="109.49" r="0.36" fill="#22cc22"/>
<circle cx="383.72" cy="112.65" r="0.36" fill="#22cc22"/>
<circle cx="385.06" cy="110.50" r="0.36" fill="#22cc22"/>
<circle cx="385.61" cy="107.24" r="0.36" fill="#22cc22"/>
<circle cx="386.04" cy="103.97" r="0.36" fill="#22cc22"/>
<circle cx="386.45" cy="100.70" r="0.36" fill="#22cc22"/>
<circle cx="386.80" cy="97.41" r="0.36" fill="#22cc22"/>
<circle cx="387.15" cy="94.13" r="0.36" fill="#22cc22"/>
<circle cx="387.48" cy="90.85" r="0.36" fill="#22cc22"/>
<circle cx="387.80" cy="87.57" r="0.36" fill="#22cc22"/>
<circle cx="388.13" cy="84.28" r="0.36" fill="#22cc22"/>
<circle cx="388.45" cy="81.00" r="0.36" fill="#22cc22"/>
<circle cx="388.78" cy="77.71" r="0.36" fill="#22cc22"/>
<circle cx="389.12" cy="74.43" r="0.36" fill="#22cc22"/>
<circle cx="389.46" cy="71.15" r="0.36" fill="#22cc22"/>
<circle cx="389.85" cy="67.87" r="0.36" fill="#22cc22"/>
<circle cx="390.26" cy="64.60" r="0.36" fill="#22cc22"/>
<circle cx="390.78" cy="61.34" r="0.36" fill="#22cc22"/>
<circle cx="391.99" cy="59.23" r="0.36" fill="#22cc22"/>
<circle cx="392.69" cy="62.43" r="0.36" fill="#22cc22"/>
<circle cx="393.08" cy="65.71" r="0.36" fill="#22cc22"/>
<circle cx="393.39" cy="68.99" r="0.36" fill="#22cc22"/>
<circle cx="393.68" cy="72.28" r="0.36" fill="#22cc22"/>
<circle cx="393.94" cy="75.57" r="0.36" fill="#22cc22"/>
<circle cx="394.20" cy="78.86" r="0.36" fill="#22cc22"/>
<circle cx="394.45" cy="82.15" r="0.36" fill="#22cc22"/>
<circle cx="394.72" cy="85.44" r="0.36" fill="#22cc22"/>
<circle cx="395.00" cy="88.73" r="0.36" fill="#22cc22"/>
<circle cx="395.33" cy="92.01" r="0.36" fill="#22cc22"/>
<circle cx="395.74" cy="95.28" r="0.36" fill="#22cc22"/>
<circle cx="396.65" cy="98.18" r="0.36" fill="#22cc22"/>
<circle cx="397.54" cy="95.03" r="0.36" fill="#22cc22"/>
<circle cx="398.03" cy="91.77" r="0.36" fill="#22cc22"/>
<circle cx="398.44" cy="88.49" r="0.36" fill="#22cc22"/>
<circle cx="398.79" cy="85.21" r="0.36" fill="#22cc22"/>
<circle cx="399.14" cy="81.93" r="0.36" fill="#22cc22"/>
<circle cx="399.47" cy="78.65" r="0.36" fill="#22cc22"/>
<circle cx="399.81" cy="75.36" r="0.36" fill="#22cc22"/>
<circle cx="400.15" cy="72.08" r="0.36" fill="#22cc22"/>
<circle cx="400.51" cy="68.80" r="0.36" fill="#22cc22"/>
<circle cx="400.88" cy="65.52" r="0.36" fill="#22cc22"/>
<circle cx="401.34" cy="62.25" r="0.36" fill="#22cc22"/>
<circle cx="401.93" cy="59.01" r="0.36" fill="#22cc22"/>
<circle cx="403.19" cy="57.99" r="0.36" fill="#22cc22"/>
<circle cx="403.86" cy="61.21" r="0.36" fill="#22cc22"/>
<circle cx="404.29" cy="64.48" r="0.36" fill="#22cc22"/>
<circle cx="404.67" cy="67.76" r="0.36" fill="#22cc22"/>
<circle cx="404.99" cy="71.04" r="0.36" fill="#22cc22"/>
<circle cx="405.30" cy="74.33" r="0.36" fill="#22cc22"/>
<circle cx="405.60" cy="77.62" r="0.36" fill="#22cc22"/>
<circle cx="405.89" cy="80.90" r="0.36" fill="#22cc22"/>
<circle cx="406.18" cy="84.19" r="0.36" fill="#22cc22"/>
<circle cx="406.47" cy="87.48" r="0.36" fill="#22cc22"/>
<circle cx="406.79" cy="90.76" r="0.36" fill="#22cc22"/>
<circle cx="407.11" cy="94.05" r="0.36" fill="#22cc22"/>
<circle cx="407.48" cy="97.32" r="0.36" fill="#22cc22"/>
<circle cx="407.90" cy="100.60" r="0.36" fill="#22cc22"/>
<circle cx="408.48" cy="103.84" r="0.36" fill="#22cc22"/>
<circle cx="409.92" cy="104.18" r="0.36" fill="#22cc22"/>
<circle cx="410.69" cy="100.97" r="0.36" fill="#22cc22"/>
<circle cx="411.25" cy="97.72" r="0.36" fill="#22cc22"/>
<circle cx="411.73" cy="94.46" r="0.36" fill="#22cc22"/>
<circle cx="412.18" cy="91.19" r="0.36" fill="#22cc22"/>
<circle cx="412.62" cy="87.92" r="0.36" fill="#22cc22"/>
<circle cx="413.05" cy="84.65" r="0.36" fill="#22cc22"/>
<circle cx="413.50" cy="81.38" r="0.36" fill="#22cc22"/>
<circle cx="413.98" cy="78.11" r="0.36" fill="#22cc22"/>
<circle cx="414.54" cy="74.86" r="0.36" fill="#22cc22"/>
<circle cx="415.49" cy="71.72" r="0.36" fill="#22cc22"/>
<circle cx="416.89" cy="74.13" r="0.36" fill="#22cc22"/>
<circle cx="417.53" cy="77.37" r="0.36" fill="#22cc22"/>
<circle cx="418.04" cy="80.63" r="0.36" fill="#22cc22"/>
<circle cx="418.49" cy="83.90" r="0.36" fill="#22cc22"/>
<circle cx="418.90" cy="87.17" r="0.36" fill="#22cc22"/>
<circle cx="419.29" cy="90.45" r="0.36" fill="#22cc22"/>
<circle cx="419.68" cy="93.72" r="0.36" fill="#22cc22"/>
<circle cx="420.08" cy="97.00" r="0.36" fill="#22cc22"/>
<circle cx="420.54" cy="100.27" r="0.36" fill="#22cc22"/>
<circle cx="421.04" cy="103.53" r="0.36" fill="#22cc22"/>
<circle cx="421.49" cy="106.80" r="0.36" fill="#22cc22"/>
<circle cx="421.92" cy="110.07" r="0.36" fill="#22cc22"/>
<circle cx="422.32" cy="113.35" r="0.36" fill="#22cc22"/>
<line x1="352.00" y1="43.50" x2="364.70" y2="43.50" stroke="#555" stroke-width="0.55" stroke-dasharray="1.5 1"/>
<text x="367.20" y="44.40" stroke="#000" stroke-width="0.05" font-size="2.85" text-anchor="start" font-weight="bold" fill="#000" font-family='"Liberation Serif",serif'  textLength="12" lengthAdjust="spacingAndGlyphs">Reference</text>
<line x1="352.00" y1="46.90" x2="364.70" y2="46.90" stroke="#22dd22" stroke-width="0.55" />
<circle cx="358.30" cy="46.90" r="0.6" fill="#22dd22"/>
<text x="367.20" y="47.80" stroke="#000" stroke-width="0.05" font-size="2.85" text-anchor="start" font-weight="bold" fill="#000" font-family='"Liberation Serif",serif'  textLength="11" lengthAdjust="spacingAndGlyphs">AWENO</text>
<line x1="352.00" y1="50.40" x2="364.70" y2="50.40" stroke="#ff9922" stroke-width="0.55" />
<circle cx="358.30" cy="50.40" r="0.6" fill="#ff9922"/>
<text x="367.20" y="51.30" stroke="#000" stroke-width="0.05" font-size="2.85" text-anchor="start" font-weight="bold" fill="#000" font-family='"Liberation Serif",serif'  textLength="34" lengthAdjust="spacingAndGlyphs">AWENO-AMDAD (kq=0.012)</text>
<line x1="352.00" y1="53.80" x2="364.70" y2="53.80" stroke="#2222ee" stroke-width="0.55" />
<circle cx="358.30" cy="53.80" r="0.6" fill="#2222ee"/>
<text x="367.20" y="54.70" stroke="#000" stroke-width="0.05" font-size="2.85" text-anchor="start" font-weight="bold" fill="#000" font-family='"Liberation Serif",serif'  textLength="33" lengthAdjust="spacingAndGlyphs">AWENO-AMDAD (kq=0.005)</text>
<line x1="352.00" y1="56.90" x2="364.70" y2="56.90" stroke="#dd1111" stroke-width="0.55" />
<circle cx="358.30" cy="56.90" r="0.6" fill="#dd1111"/>
<text x="367.20" y="57.80" stroke="#000" stroke-width="0.05" font-size="2.85" text-anchor="start" font-weight="bold" fill="#000" font-family='"Liberation Serif",serif'  textLength="16.5" lengthAdjust="spacingAndGlyphs">AMDAD-ACU</text>
<linearGradient id="cbar" x1="0" y1="0" x2="0" y2="1"><stop offset="0" stop-color="#ff1808"/><stop offset="0.1" stop-color="#ff3a0a"/><stop offset="0.18" stop-color="#ff9010"/><stop offset="0.28" stop-color="#ffd014"/><stop offset="0.36" stop-color="#f0f820"/><stop offset="0.46" stop-color="#50fa28"/><stop offset="0.6" stop-color="#00fe6a"/><stop offset="0.72" stop-color="#08f0d8"/><stop offset="0.82" stop-color="#1090ff"/><stop offset="0.9" stop-color="#0050ff"/><stop offset="1" stop-color="#0030f0"/></linearGradient>
<clipPath id="c0"><rect x="267.0" y="144.20" width="119.04" height="38.0"/></clipPath>
<g clip-path="url(#c0)">
<rect x="267.0" y="144.20" width="119.04" height="38.0" fill="#00fe6a"/>
<path d="M381.00,144.20 L387.04,144.20 L387.04,182.20 L370.60,182.20 L369.20,164.90Z" fill="#0050ff" stroke="none" stroke-width="0" />
<radialGradient id="gc0" gradientUnits="userSpaceOnUse" cx="271" cy="184" r="86"><stop offset="0" stop-color="#ff1808"/><stop offset="0.06" stop-color="#ff3a0a"/><stop offset="0.11" stop-color="#ff8210"/><stop offset="0.2" stop-color="#ffa010"/><stop offset="0.32" stop-color="#ffbc10"/><stop offset="0.5" stop-color="#ffd014"/><stop offset="0.75" stop-color="#ffdc18"/><stop offset="1" stop-color="#ffe41a"/></radialGradient>
<path d="M273.00,182.40 L273.21,182.10 L273.48,181.68 L273.81,181.19 L274.19,180.65 L274.59,180.11 L275.00,179.60 L275.43,179.12 L275.88,178.63 L276.36,178.14 L276.87,177.64 L277.41,177.13 L278.00,176.60 L278.61,176.06 L279.25,175.51 L279.92,174.95 L280.64,174.38 L281.43,173.79 L282.30,173.20 L283.27,172.58 L284.32,171.94 L285.44,171.28 L286.61,170.63 L287.80,170.00 L289.00,169.40 L290.22,168.83 L291.47,168.28 L292.76,167.74 L294.05,167.23 L295.33,166.75 L296.60,166.30 L297.85,165.88 L299.10,165.49 L300.34,165.13 L301.58,164.80 L302.80,164.49 L304.00,164.20 L305.18,163.94 L306.33,163.72 L307.47,163.52 L308.60,163.34 L309.74,163.17 L310.90,163.00 L312.07,162.84 L313.26,162.69 L314.44,162.54 L315.63,162.41 L316.82,162.30 L318.00,162.20 L319.18,162.11 L320.38,162.04 L321.57,161.98 L322.74,161.94 L323.89,161.91 L325.00,161.90 L326.06,161.91 L327.07,161.93 L328.06,161.96 L329.04,162.02 L330.01,162.10 L331.00,162.20 L332.00,162.33 L332.99,162.48 L333.97,162.65 L334.97,162.84 L335.98,163.06 L337.00,163.30 L338.07,163.58 L339.19,163.89 L340.32,164.23 L341.42,164.57 L342.46,164.90 L343.40,165.20 L344.23,165.47 L344.97,165.71 L345.66,165.95 L346.29,166.17 L346.90,166.39 L347.50,166.60 L348.11,166.81 L348.72,167.03 L349.31,167.24 L349.83,167.43 L350.27,167.58 L350.60,167.70 L350.73,168.25 L350.91,169.02 L351.13,169.92 L351.36,170.85 L351.60,171.70 L351.85,172.47 L352.12,173.24 L352.40,174.00 L352.67,174.75 L352.90,175.50 L353.10,176.31 L353.29,177.16 L353.46,177.99 L353.60,178.70 L353.70,179.20 L353.20,182.40 L273.00,182.40Z" fill="url(#gc0)" stroke="none" stroke-width="0" />
<path d="M299.00,165.60 L300.70,165.25 L303.13,164.74 L305.91,164.16 L308.64,163.62 L310.90,163.20 L312.63,162.93 L314.09,162.74 L315.40,162.61 L316.66,162.50 L318.00,162.40 L319.42,162.30 L320.86,162.22 L322.28,162.15 L323.67,162.11 L325.00,162.10 L326.26,162.11 L327.47,162.14 L328.65,162.19 L329.82,162.28 L331.00,162.40 L332.19,162.56 L333.38,162.74 L334.57,162.96 L335.77,163.22 L337.00,163.50 L338.24,163.82 L339.50,164.17 L340.78,164.56 L342.08,164.97 L343.40,165.40 L344.85,165.82 L346.42,166.23 L347.96,166.68 L349.34,167.22 L350.40,167.90 L351.12,168.78 L351.60,169.83 L351.88,170.95 L352.00,172.04 L352.00,173.00 L351.88,173.91 L351.60,174.84 L351.19,175.67 L350.65,176.26 L350.00,176.50 L349.24,176.27 L348.36,175.65 L347.36,174.82 L346.24,173.94 L345.00,173.20 L343.62,172.57 L342.11,171.94 L340.49,171.34 L338.78,170.78 L337.00,170.30 L335.14,169.89 L333.19,169.55 L331.17,169.25 L329.10,169.01 L327.00,168.80 L324.85,168.65 L322.62,168.55 L320.38,168.49 L318.15,168.45 L316.00,168.40 L313.78,168.34 L311.45,168.30 L309.23,168.26 L307.34,168.22 L306.00,168.20Z" fill="#fff21e" stroke="none" stroke-width="0" />
<path d="M306.00,168.20 L307.34,168.22 L309.23,168.26 L311.45,168.30 L313.78,168.34 L316.00,168.40 L318.15,168.45 L320.38,168.49 L322.62,168.55 L324.85,168.65 L327.00,168.80 L329.10,169.01 L331.17,169.25 L333.19,169.55 L335.14,169.89 L337.00,170.30 L338.78,170.78 L340.49,171.34 L342.11,171.94 L343.62,172.57 L345.00,173.20 L346.34,173.90 L347.65,174.67 L348.79,175.43 L349.62,176.08 L350.00,176.50 L349.84,176.67 L349.24,176.65 L348.32,176.49 L347.20,176.26 L346.00,176.00 L344.69,175.69 L343.18,175.29 L341.54,174.85 L339.79,174.40 L338.00,174.00 L336.16,173.63 L334.24,173.26 L332.24,172.90 L330.16,172.58 L328.00,172.30 L325.70,172.08 L323.25,171.90 L320.75,171.76 L318.30,171.63 L316.00,171.50 L313.71,171.37 L311.38,171.25 L309.18,171.15 L307.33,171.06 L306.00,171.00Z" fill="#ffe018" stroke="none" stroke-width="0" />
<path d="M336.00,182.60 L336.44,182.02 L337.03,181.19 L337.75,180.25 L338.58,179.34 L339.50,178.60 L340.55,178.01 L341.74,177.47 L343.02,177.03 L344.29,176.72 L345.50,176.60 L346.68,176.68 L347.89,176.93 L349.05,177.32 L350.11,177.83 L351.00,178.40 L351.70,179.15 L352.26,180.11 L352.70,181.11 L353.04,181.99 L353.30,182.60Z" fill="#ffa412" stroke="none" stroke-width="0" />
<path d="M343.00,182.60 L343.24,182.24 L343.56,181.73 L343.96,181.15 L344.44,180.60 L345.00,180.20 L345.69,179.93 L346.50,179.73 L347.38,179.61 L348.23,179.56 L349.00,179.60 L349.70,179.75 L350.37,180.01 L350.99,180.33 L351.54,180.68 L352.00,181.00 L352.34,181.33 L352.59,181.70 L352.77,182.07 L352.90,182.38 L353.00,182.60Z" fill="#ff9210" stroke="none" stroke-width="0" />
<linearGradient id="tc0" gradientUnits="userSpaceOnUse" x1="351" y1="0" x2="368" y2="0"><stop offset="0" stop-color="#b0f820"/><stop offset="0.3" stop-color="#40f828"/><stop offset="1" stop-color="#10f840"/></linearGradient>
<path d="M350.60,167.70 L350.73,168.25 L350.91,169.02 L351.13,169.92 L351.36,170.85 L351.60,171.70 L351.85,172.47 L352.12,173.24 L352.40,174.00 L352.67,174.75 L352.90,175.50 L353.10,176.31 L353.29,177.16 L353.46,177.99 L353.60,178.70 L353.70,179.20 L369.20,164.90Z" fill="url(#tc0)" stroke="none" stroke-width="0" />
<path d="M369.20,164.90 L370.60,182.60 L353.20,182.60 L353.70,179.20Z" fill="#00f884" stroke="none" stroke-width="0" />
<path d="M357.00,182.60 L359.50,179.60 L364.00,178.40 L369.00,180.00 L370.40,182.60Z" fill="#08f4a8" stroke="none" stroke-width="0" />
<path d="M283.60,182.40 L283.78,181.88 L284.05,181.15 L284.34,180.29 L284.55,179.38 L284.60,178.50 L284.42,177.57 L284.07,176.53 L283.65,175.50 L283.26,174.62 L283.00,174.00" fill="none" stroke="#7a5a08" stroke-width="0.35" />
<path d="M291.50,168.50 L292.27,169.10 L293.38,169.95 L294.64,170.95 L295.91,172.00 L297.00,173.00 L297.93,173.98 L298.80,174.99 L299.62,176.02 L300.35,177.03 L301.00,178.00 L301.56,178.99 L302.04,180.01 L302.44,180.99 L302.76,181.81 L303.00,182.40" fill="none" stroke="#7a5a08" stroke-width="0.3" />
<path d="M303.00,166.20 L304.24,166.77 L306.00,167.58 L308.04,168.52 L310.12,169.53 L312.00,170.50 L313.70,171.49 L315.37,172.56 L316.99,173.63 L318.54,174.64 L320.00,175.50 L321.30,176.21 L322.45,176.81 L323.55,177.33 L324.70,177.79 L326.00,178.20 L327.60,178.57 L329.44,178.88 L331.28,179.14 L332.88,179.35 L334.00,179.50" fill="none" stroke="#7a5a08" stroke-width="0.3" />
<path d="M318.00,163.00 L319.36,163.64 L321.28,164.54 L323.52,165.58 L325.84,166.64 L328.00,167.60 L330.03,168.45 L332.10,169.28 L334.14,170.09 L336.13,170.86 L338.00,171.60 L339.78,172.30 L341.49,172.96 L343.11,173.59 L344.62,174.20 L346.00,174.80 L347.27,175.42 L348.46,176.05 L349.50,176.64 L350.37,177.14 L351.00,177.50" fill="none" stroke="#7a5a08" stroke-width="0.3" />
<path d="M305.00,182.40 L305.90,181.79 L307.15,180.89 L308.65,179.89 L310.30,179.03 L312.00,178.50 L313.82,178.36 L315.83,178.46 L317.93,178.73 L320.02,179.10 L322.00,179.50 L324.01,180.00 L326.10,180.66 L328.10,181.36 L329.79,181.98 L331.00,182.40" fill="none" stroke="#7a5a08" stroke-width="0.3" />
<path d="M358.00,181.00 L360.00,179.40 L361.60,180.80 L363.40,179.00 L365.00,180.60 L366.60,179.20 L368.00,180.50" fill="none" stroke="#083818" stroke-width="0.48" />
<path d="M273.00,182.40 L273.21,182.10 L273.48,181.68 L273.81,181.19 L274.19,180.65 L274.59,180.11 L275.00,179.60 L275.43,179.12 L275.88,178.63 L276.36,178.14 L276.87,177.64 L277.41,177.13 L278.00,176.60 L278.61,176.06 L279.25,175.51 L279.92,174.95 L280.64,174.38 L281.43,173.79 L282.30,173.20 L283.27,172.58 L284.32,171.94 L285.44,171.28 L286.61,170.63 L287.80,170.00 L289.00,169.40 L290.22,168.83 L291.47,168.28 L292.76,167.74 L294.05,167.23 L295.33,166.75 L296.60,166.30 L297.85,165.88 L299.10,165.49 L300.34,165.13 L301.58,164.80 L302.80,164.49 L304.00,164.20 L305.18,163.94 L306.33,163.72 L307.47,163.52 L308.60,163.34 L309.74,163.17 L310.90,163.00 L312.07,162.84 L313.26,162.69 L314.44,162.54 L315.63,162.41 L316.82,162.30 L318.00,162.20 L319.18,162.11 L320.38,162.04 L321.57,161.98 L322.74,161.94 L323.89,161.91 L325.00,161.90 L326.06,161.91 L327.07,161.93 L328.06,161.96 L329.04,162.02 L330.01,162.10 L331.00,162.20 L332.00,162.33 L332.99,162.48 L333.97,162.65 L334.97,162.84 L335.98,163.06 L337.00,163.30 L338.07,163.58 L339.19,163.89 L340.32,164.23 L341.42,164.57 L342.46,164.90 L343.40,165.20 L344.23,165.47 L344.97,165.71 L345.66,165.95 L346.29,166.17 L346.90,166.39 L347.50,166.60 L348.11,166.81 L348.72,167.03 L349.31,167.24 L349.83,167.43 L350.27,167.58 L350.60,167.70" fill="none" stroke="#04240a" stroke-width="0.8" />
<path d="M350.60,167.70 L369.20,164.90" fill="none" stroke="#06300c" stroke-width="0.68" />
<path d="M369.20,164.90 L353.70,179.20" fill="none" stroke="#04240a" stroke-width="0.8" />
<path d="M350.60,167.70 L350.73,168.25 L350.91,169.02 L351.13,169.92 L351.36,170.85 L351.60,171.70 L351.85,172.47 L352.12,173.24 L352.40,174.00 L352.67,174.75 L352.90,175.50 L353.10,176.31 L353.29,177.16 L353.46,177.99 L353.60,178.70 L353.70,179.20" fill="none" stroke="#3a7a10" stroke-width="0.3" />
<path d="M381.00,144.20 L369.20,164.90 L370.60,182.20" fill="none" stroke="#0a3a90" stroke-width="0.45" />
</g>
<line x1="267.00" y1="144.20" x2="267.00" y2="182.20" stroke="#444" stroke-width="0.5" />
<line x1="267.00" y1="182.20" x2="386.04" y2="182.20" stroke="#444" stroke-width="0.5" />
<line x1="266.00" y1="182.20" x2="267.00" y2="182.20" stroke="#444" stroke-width="0.4" />
<text x="265.50" y="183.20" stroke="#000" stroke-width="0.12" font-size="4.07" text-anchor="end" font-weight="bold" fill="#000" font-family='"Liberation Serif",serif' >0</text>
<line x1="266.00" y1="174.60" x2="267.00" y2="174.60" stroke="#444" stroke-width="0.4" />
<text x="265.50" y="175.60" stroke="#000" stroke-width="0.12" font-size="4.07" text-anchor="end" font-weight="bold" fill="#000" font-family='"Liberation Serif",serif' >0.2</text>
<line x1="266.00" y1="167.00" x2="267.00" y2="167.00" stroke="#444" stroke-width="0.4" />
<text x="265.50" y="168.00" stroke="#000" stroke-width="0.12" font-size="4.07" text-anchor="end" font-weight="bold" fill="#000" font-family='"Liberation Serif",serif' >0.4</text>
<line x1="266.00" y1="159.40" x2="267.00" y2="159.40" stroke="#444" stroke-width="0.4" />
<text x="265.50" y="160.40" stroke="#000" stroke-width="0.12" font-size="4.07" text-anchor="end" font-weight="bold" fill="#000" font-family='"Liberation Serif",serif' >0.6</text>
<line x1="266.00" y1="151.80" x2="267.00" y2="151.80" stroke="#444" stroke-width="0.4" />
<text x="265.50" y="152.80" stroke="#000" stroke-width="0.12" font-size="4.07" text-anchor="end" font-weight="bold" fill="#000" font-family='"Liberation Serif",serif' >0.8</text>
<line x1="266.00" y1="144.20" x2="267.00" y2="144.20" stroke="#444" stroke-width="0.4" />
<text x="265.50" y="145.20" stroke="#000" stroke-width="0.12" font-size="4.07" text-anchor="end" font-weight="bold" fill="#000" font-family='"Liberation Serif",serif' >1</text>
<line x1="267.00" y1="182.20" x2="267.00" y2="183.20" stroke="#444" stroke-width="0.4" />
<text x="267.00" y="185.90" stroke="#000" stroke-width="0.12" font-size="4.14" text-anchor="middle" font-weight="bold" fill="#000" font-family='"Liberation Serif",serif' >0</text>
<line x1="296.76" y1="182.20" x2="296.76" y2="183.20" stroke="#444" stroke-width="0.4" />
<text x="296.76" y="185.90" stroke="#000" stroke-width="0.12" font-size="4.14" text-anchor="middle" font-weight="bold" fill="#000" font-family='"Liberation Serif",serif' >0.8</text>
<line x1="326.52" y1="182.20" x2="326.52" y2="183.20" stroke="#444" stroke-width="0.4" />
<text x="326.52" y="185.90" stroke="#000" stroke-width="0.12" font-size="4.14" text-anchor="middle" font-weight="bold" fill="#000" font-family='"Liberation Serif",serif' >1.6</text>
<line x1="356.28" y1="182.20" x2="356.28" y2="183.20" stroke="#444" stroke-width="0.4" />
<text x="356.28" y="185.90" stroke="#000" stroke-width="0.12" font-size="4.14" text-anchor="middle" font-weight="bold" fill="#000" font-family='"Liberation Serif",serif' >2.4</text>
<line x1="386.04" y1="182.20" x2="386.04" y2="183.20" stroke="#444" stroke-width="0.4" />
<text x="386.04" y="185.90" stroke="#000" stroke-width="0.12" font-size="4.14" text-anchor="middle" font-weight="bold" fill="#000" font-family='"Liberation Serif",serif' >3.2</text>
<text x="326.02" y="189.20" stroke="#000" stroke-width="0.12" font-size="4.14" text-anchor="middle" font-weight="bold" fill="#000" font-family='"Liberation Serif",serif' >x</text>
<text x="259.00" y="164.20" stroke="#000" stroke-width="0.12" font-size="4.14" text-anchor="middle" font-weight="bold" fill="#000" font-family='"Liberation Serif",serif' transform="rotate(-90 259 164.20)">y</text>
<text x="326.00" y="140.10" stroke="#000" stroke-width="0.06" font-size="4.15" text-anchor="middle" font-weight="bold" fill="#000" font-family='"Liberation Serif",serif' >AWENO FD scheme</text>
<rect x="392.6" y="138.70" width="13.5" height="48.4" fill="#fff" stroke="#aaa" stroke-width="0.3"/>
<rect x="393.5" y="145.50" width="4.9" height="38.8" fill="url(#cbar)"/>
<text x="399.40" y="142.00" stroke="#000" stroke-width="0.05" font-size="2.85" text-anchor="middle" font-weight="bold" fill="#000" font-family='"Liberation Serif",serif'  textLength="9" lengthAdjust="spacingAndGlyphs">Density</text>
<text x="400.30" y="146.20" stroke="#000" stroke-width="0.12" font-size="3.17" text-anchor="start" font-weight="bold" fill="#000" font-family='"Liberation Serif",serif' >20</text>
<text x="400.30" y="150.46" stroke="#000" stroke-width="0.12" font-size="3.17" text-anchor="start" font-weight="bold" fill="#000" font-family='"Liberation Serif",serif' >18</text>
<text x="400.30" y="154.72" stroke="#000" stroke-width="0.12" font-size="3.17" text-anchor="start" font-weight="bold" fill="#000" font-family='"Liberation Serif",serif' >16</text>
<text x="400.30" y="158.98" stroke="#000" stroke-width="0.12" font-size="3.17" text-anchor="start" font-weight="bold" fill="#000" font-family='"Liberation Serif",serif' >14</text>
<text x="400.30" y="163.24" stroke="#000" stroke-width="0.12" font-size="3.17" text-anchor="start" font-weight="bold" fill="#000" font-family='"Liberation Serif",serif' >12</text>
<text x="400.30" y="167.50" stroke="#000" stroke-width="0.12" font-size="3.17" text-anchor="start" font-weight="bold" fill="#000" font-family='"Liberation Serif",serif' >10</text>
<text x="400.30" y="171.76" stroke="#000" stroke-width="0.12" font-size="3.17" text-anchor="start" font-weight="bold" fill="#000" font-family='"Liberation Serif",serif' >8</text>
<text x="400.30" y="176.02" stroke="#000" stroke-width="0.12" font-size="3.17" text-anchor="start" font-weight="bold" fill="#000" font-family='"Liberation Serif",serif' >6</text>
<text x="400.30" y="180.28" stroke="#000" stroke-width="0.12" font-size="3.17" text-anchor="start" font-weight="bold" fill="#000" font-family='"Liberation Serif",serif' >4</text>
<text x="400.30" y="184.54" stroke="#000" stroke-width="0.12" font-size="3.17" text-anchor="start" font-weight="bold" fill="#000" font-family='"Liberation Serif",serif' >2</text>
<clipPath id="c57"><rect x="267.0" y="201.80" width="119.04" height="38.0"/></clipPath>
<g clip-path="url(#c57)">
<rect x="267.0" y="201.80" width="119.04" height="38.0" fill="#00fe6a"/>
<path d="M381.00,201.80 L387.04,201.80 L387.04,239.80 L370.60,239.80 L369.20,222.50Z" fill="#0050ff" stroke="none" stroke-width="0" />
<radialGradient id="gc57" gradientUnits="userSpaceOnUse" cx="271" cy="241.6" r="86"><stop offset="0" stop-color="#ff1808"/><stop offset="0.06" stop-color="#ff3a0a"/><stop offset="0.11" stop-color="#ff8210"/><stop offset="0.2" stop-color="#ffa010"/><stop offset="0.32" stop-color="#ffbc10"/><stop offset="0.5" stop-color="#ffd014"/><stop offset="0.75" stop-color="#ffdc18"/><stop offset="1" stop-color="#ffe41a"/></radialGradient>
<path d="M273.00,240.00 L273.21,239.70 L273.48,239.28 L273.81,238.79 L274.19,238.25 L274.59,237.71 L275.00,237.20 L275.43,236.72 L275.88,236.23 L276.36,235.74 L276.87,235.24 L277.41,234.73 L278.00,234.20 L278.61,233.66 L279.25,233.11 L279.92,232.55 L280.64,231.98 L281.43,231.39 L282.30,230.80 L283.27,230.18 L284.32,229.54 L285.44,228.88 L286.61,228.23 L287.80,227.60 L289.00,227.00 L290.22,226.43 L291.47,225.88 L292.76,225.34 L294.05,224.83 L295.33,224.35 L296.60,223.90 L297.85,223.48 L299.10,223.09 L300.34,222.73 L301.58,222.40 L302.80,222.09 L304.00,221.80 L305.18,221.54 L306.33,221.32 L307.47,221.12 L308.60,220.94 L309.74,220.77 L310.90,220.60 L312.07,220.44 L313.26,220.29 L314.44,220.14 L315.63,220.01 L316.82,219.90 L318.00,219.80 L319.18,219.71 L320.38,219.64 L321.57,219.58 L322.74,219.54 L323.89,219.51 L325.00,219.50 L326.06,219.51 L327.07,219.53 L328.06,219.56 L329.04,219.62 L330.01,219.70 L331.00,219.80 L332.00,219.93 L332.99,220.08 L333.97,220.25 L334.97,220.44 L335.98,220.66 L337.00,220.90 L338.07,221.18 L339.19,221.49 L340.32,221.83 L341.42,222.17 L342.46,222.50 L343.40,222.80 L344.23,223.07 L344.97,223.31 L345.66,223.55 L346.29,223.77 L346.90,223.99 L347.50,224.20 L348.11,224.41 L348.72,224.63 L349.31,224.84 L349.83,225.03 L350.27,225.18 L350.60,225.30 L350.73,225.85 L350.91,226.62 L351.13,227.52 L351.36,228.45 L351.60,229.30 L351.85,230.07 L352.12,230.84 L352.40,231.60 L352.67,232.35 L352.90,233.10 L353.10,233.91 L353.29,234.76 L353.46,235.59 L353.60,236.30 L353.70,236.80 L353.20,240.00 L273.00,240.00Z" fill="url(#gc57)" stroke="none" stroke-width="0" />
<path d="M299.00,223.20 L300.70,222.85 L303.13,222.34 L305.91,221.76 L308.64,221.22 L310.90,220.80 L312.63,220.53 L314.09,220.34 L315.40,220.21 L316.66,220.10 L318.00,220.00 L319.42,219.90 L320.86,219.82 L322.28,219.75 L323.67,219.71 L325.00,219.70 L326.26,219.71 L327.47,219.74 L328.65,219.79 L329.82,219.88 L331.00,220.00 L332.19,220.16 L333.38,220.34 L334.57,220.56 L335.77,220.82 L337.00,221.10 L338.24,221.42 L339.50,221.77 L340.78,222.16 L342.08,222.57 L343.40,223.00 L344.85,223.42 L346.42,223.83 L347.96,224.28 L349.34,224.82 L350.40,225.50 L351.12,226.38 L351.60,227.43 L351.88,228.55 L352.00,229.64 L352.00,230.60 L351.88,231.51 L351.60,232.44 L351.19,233.27 L350.65,233.86 L350.00,234.10 L349.24,233.87 L348.36,233.25 L347.36,232.42 L346.24,231.54 L345.00,230.80 L343.62,230.17 L342.11,229.54 L340.49,228.94 L338.78,228.38 L337.00,227.90 L335.14,227.49 L333.19,227.15 L331.17,226.85 L329.10,226.61 L327.00,226.40 L324.85,226.25 L322.62,226.15 L320.38,226.09 L318.15,226.05 L316.00,226.00 L313.78,225.94 L311.45,225.90 L309.23,225.86 L307.34,225.82 L306.00,225.80Z" fill="#fff21e" stroke="none" stroke-width="0" />
<path d="M306.00,225.80 L307.34,225.82 L309.23,225.86 L311.45,225.90 L313.78,225.94 L316.00,226.00 L318.15,226.05 L320.38,226.09 L322.62,226.15 L324.85,226.25 L327.00,226.40 L329.10,226.61 L331.17,226.85 L333.19,227.15 L335.14,227.49 L337.00,227.90 L338.78,228.38 L340.49,228.94 L342.11,229.54 L343.62,230.17 L345.00,230.80 L346.34,231.50 L347.65,232.27 L348.79,233.03 L349.62,233.68 L350.00,234.10 L349.84,234.27 L349.24,234.25 L348.32,234.09 L347.20,233.86 L346.00,233.60 L344.69,233.29 L343.18,232.89 L341.54,232.45 L339.79,232.00 L338.00,231.60 L336.16,231.23 L334.24,230.86 L332.24,230.50 L330.16,230.18 L328.00,229.90 L325.70,229.68 L323.25,229.50 L320.75,229.36 L318.30,229.23 L316.00,229.10 L313.71,228.97 L311.38,228.85 L309.18,228.75 L307.33,228.66 L306.00,228.60Z" fill="#ffe018" stroke="none" stroke-width="0" />
<path d="M336.00,240.20 L336.44,239.62 L337.03,238.79 L337.75,237.85 L338.58,236.94 L339.50,236.20 L340.55,235.61 L341.74,235.07 L343.02,234.63 L344.29,234.32 L345.50,234.20 L346.68,234.28 L347.89,234.53 L349.05,234.92 L350.11,235.43 L351.00,236.00 L351.70,236.75 L352.26,237.71 L352.70,238.71 L353.04,239.59 L353.30,240.20Z" fill="#ffa412" stroke="none" stroke-width="0" />
<path d="M343.00,240.20 L343.24,239.84 L343.56,239.33 L343.96,238.75 L344.44,238.20 L345.00,237.80 L345.69,237.53 L346.50,237.33 L347.38,237.21 L348.23,237.16 L349.00,237.20 L349.70,237.35 L350.37,237.61 L350.99,237.93 L351.54,238.28 L352.00,238.60 L352.34,238.93 L352.59,239.30 L352.77,239.67 L352.90,239.98 L353.00,240.20Z" fill="#ff9210" stroke="none" stroke-width="0" />
<linearGradient id="tc57" gradientUnits="userSpaceOnUse" x1="351" y1="0" x2="368" y2="0"><stop offset="0" stop-color="#b0f820"/><stop offset="0.3" stop-color="#40f828"/><stop offset="1" stop-color="#10f840"/></linearGradient>
<path d="M350.60,225.30 L350.73,225.85 L350.91,226.62 L351.13,227.52 L351.36,228.45 L351.60,229.30 L351.85,230.07 L352.12,230.84 L352.40,231.60 L352.67,232.35 L352.90,233.10 L353.10,233.91 L353.29,234.76 L353.46,235.59 L353.60,236.30 L353.70,236.80 L369.20,222.50Z" fill="url(#tc57)" stroke="none" stroke-width="0" />
<path d="M369.20,222.50 L370.60,240.20 L353.20,240.20 L353.70,236.80Z" fill="#00f884" stroke="none" stroke-width="0" />
<path d="M357.00,240.20 L359.50,237.20 L364.00,236.00 L369.00,237.60 L370.40,240.20Z" fill="#08f4a8" stroke="none" stroke-width="0" />
<path d="M283.60,240.00 L283.78,239.48 L284.05,238.75 L284.34,237.89 L284.55,236.98 L284.60,236.10 L284.42,235.17 L284.07,234.13 L283.65,233.10 L283.26,232.22 L283.00,231.60" fill="none" stroke="#7a5a08" stroke-width="0.35" />
<path d="M291.50,226.10 L292.27,226.70 L293.38,227.55 L294.64,228.55 L295.91,229.60 L297.00,230.60 L297.93,231.58 L298.80,232.59 L299.62,233.62 L300.35,234.63 L301.00,235.60 L301.56,236.59 L302.04,237.61 L302.44,238.59 L302.76,239.41 L303.00,240.00" fill="none" stroke="#7a5a08" stroke-width="0.3" />
<path d="M303.00,223.80 L304.24,224.37 L306.00,225.18 L308.04,226.12 L310.12,227.13 L312.00,228.10 L313.70,229.09 L315.37,230.16 L316.99,231.23 L318.54,232.24 L320.00,233.10 L321.30,233.81 L322.45,234.41 L323.55,234.93 L324.70,235.39 L326.00,235.80 L327.60,236.17 L329.44,236.48 L331.28,236.74 L332.88,236.95 L334.00,237.10" fill="none" stroke="#7a5a08" stroke-width="0.3" />
<path d="M318.00,220.60 L319.36,221.24 L321.28,222.14 L323.52,223.18 L325.84,224.24 L328.00,225.20 L330.03,226.05 L332.10,226.88 L334.14,227.69 L336.13,228.46 L338.00,229.20 L339.78,229.90 L341.49,230.56 L343.11,231.19 L344.62,231.80 L346.00,232.40 L347.27,233.02 L348.46,233.65 L349.50,234.24 L350.37,234.74 L351.00,235.10" fill="none" stroke="#7a5a08" stroke-width="0.3" />
<path d="M305.00,240.00 L305.90,239.39 L307.15,238.49 L308.65,237.49 L310.30,236.63 L312.00,236.10 L313.82,235.96 L315.83,236.06 L317.93,236.33 L320.02,236.70 L322.00,237.10 L324.01,237.60 L326.10,238.26 L328.10,238.96 L329.79,239.58 L331.00,240.00" fill="none" stroke="#7a5a08" stroke-width="0.3" />
<path d="M358.00,238.60 L360.00,237.00 L361.60,238.40 L363.40,236.60 L365.00,238.20 L366.60,236.80 L368.00,238.10" fill="none" stroke="#083818" stroke-width="0.48" />
<path d="M273.00,240.00 L273.21,239.70 L273.48,239.28 L273.81,238.79 L274.19,238.25 L274.59,237.71 L275.00,237.20 L275.43,236.72 L275.88,236.23 L276.36,235.74 L276.87,235.24 L277.41,234.73 L278.00,234.20 L278.61,233.66 L279.25,233.11 L279.92,232.55 L280.64,231.98 L281.43,231.39 L282.30,230.80 L283.27,230.18 L284.32,229.54 L285.44,228.88 L286.61,228.23 L287.80,227.60 L289.00,227.00 L290.22,226.43 L291.47,225.88 L292.76,225.34 L294.05,224.83 L295.33,224.35 L296.60,223.90 L297.85,223.48 L299.10,223.09 L300.34,222.73 L301.58,222.40 L302.80,222.09 L304.00,221.80 L305.18,221.54 L306.33,221.32 L307.47,221.12 L308.60,220.94 L309.74,220.77 L310.90,220.60 L312.07,220.44 L313.26,220.29 L314.44,220.14 L315.63,220.01 L316.82,219.90 L318.00,219.80 L319.18,219.71 L320.38,219.64 L321.57,219.58 L322.74,219.54 L323.89,219.51 L325.00,219.50 L326.06,219.51 L327.07,219.53 L328.06,219.56 L329.04,219.62 L330.01,219.70 L331.00,219.80 L332.00,219.93 L332.99,220.08 L333.97,220.25 L334.97,220.44 L335.98,220.66 L337.00,220.90 L338.07,221.18 L339.19,221.49 L340.32,221.83 L341.42,222.17 L342.46,222.50 L343.40,222.80 L344.23,223.07 L344.97,223.31 L345.66,223.55 L346.29,223.77 L346.90,223.99 L347.50,224.20 L348.11,224.41 L348.72,224.63 L349.31,224.84 L349.83,225.03 L350.27,225.18 L350.60,225.30" fill="none" stroke="#04240a" stroke-width="0.8" />
<path d="M350.60,225.30 L369.20,222.50" fill="none" stroke="#06300c" stroke-width="0.68" />
<path d="M369.20,222.50 L353.70,236.80" fill="none" stroke="#04240a" stroke-width="0.8" />
<path d="M350.60,225.30 L350.73,225.85 L350.91,226.62 L351.13,227.52 L351.36,228.45 L351.60,229.30 L351.85,230.07 L352.12,230.84 L352.40,231.60 L352.67,232.35 L352.90,233.10 L353.10,233.91 L353.29,234.76 L353.46,235.59 L353.60,236.30 L353.70,236.80" fill="none" stroke="#3a7a10" stroke-width="0.3" />
<path d="M381.00,201.80 L369.20,222.50 L370.60,239.80" fill="none" stroke="#0a3a90" stroke-width="0.45" />
</g>
<line x1="267.00" y1="201.80" x2="267.00" y2="239.80" stroke="#444" stroke-width="0.5" />
<line x1="267.00" y1="239.80" x2="386.04" y2="239.80" stroke="#444" stroke-width="0.5" />
<line x1="266.00" y1="239.80" x2="267.00" y2="239.80" stroke="#444" stroke-width="0.4" />
<text x="265.50" y="240.80" stroke="#000" stroke-width="0.12" font-size="4.07" text-anchor="end" font-weight="bold" fill="#000" font-family='"Liberation Serif",serif' >0</text>
<line x1="266.00" y1="232.20" x2="267.00" y2="232.20" stroke="#444" stroke-width="0.4" />
<text x="265.50" y="233.20" stroke="#000" stroke-width="0.12" font-size="4.07" text-anchor="end" font-weight="bold" fill="#000" font-family='"Liberation Serif",serif' >0.2</text>
<line x1="266.00" y1="224.60" x2="267.00" y2="224.60" stroke="#444" stroke-width="0.4" />
<text x="265.50" y="225.60" stroke="#000" stroke-width="0.12" font-size="4.07" text-anchor="end" font-weight="bold" fill="#000" font-family='"Liberation Serif",serif' >0.4</text>
<line x1="266.00" y1="217.00" x2="267.00" y2="217.00" stroke="#444" stroke-width="0.4" />
<text x="265.50" y="218.00" stroke="#000" stroke-width="0.12" font-size="4.07" text-anchor="end" font-weight="bold" fill="#000" font-family='"Liberation Serif",serif' >0.6</text>
<line x1="266.00" y1="209.40" x2="267.00" y2="209.40" stroke="#444" stroke-width="0.4" />
<text x="265.50" y="210.40" stroke="#000" stroke-width="0.12" font-size="4.07" text-anchor="end" font-weight="bold" fill="#000" font-family='"Liberation Serif",serif' >0.8</text>
<line x1="266.00" y1="201.80" x2="267.00" y2="201.80" stroke="#444" stroke-width="0.4" />
<text x="265.50" y="202.80" stroke="#000" stroke-width="0.12" font-size="4.07" text-anchor="end" font-weight="bold" fill="#000" font-family='"Liberation Serif",serif' >1</text>
<line x1="267.00" y1="239.80" x2="267.00" y2="240.80" stroke="#444" stroke-width="0.4" />
<text x="267.00" y="243.50" stroke="#000" stroke-width="0.12" font-size="4.14" text-anchor="middle" font-weight="bold" fill="#000" font-family='"Liberation Serif",serif' >0</text>
<line x1="296.76" y1="239.80" x2="296.76" y2="240.80" stroke="#444" stroke-width="0.4" />
<text x="296.76" y="243.50" stroke="#000" stroke-width="0.12" font-size="4.14" text-anchor="middle" font-weight="bold" fill="#000" font-family='"Liberation Serif",serif' >0.8</text>
<line x1="326.52" y1="239.80" x2="326.52" y2="240.80" stroke="#444" stroke-width="0.4" />
<text x="326.52" y="243.50" stroke="#000" stroke-width="0.12" font-size="4.14" text-anchor="middle" font-weight="bold" fill="#000" font-family='"Liberation Serif",serif' >1.6</text>
<line x1="356.28" y1="239.80" x2="356.28" y2="240.80" stroke="#444" stroke-width="0.4" />
<text x="356.28" y="243.50" stroke="#000" stroke-width="0.12" font-size="4.14" text-anchor="middle" font-weight="bold" fill="#000" font-family='"Liberation Serif",serif' >2.4</text>
<line x1="386.04" y1="239.80" x2="386.04" y2="240.80" stroke="#444" stroke-width="0.4" />
<text x="386.04" y="243.50" stroke="#000" stroke-width="0.12" font-size="4.14" text-anchor="middle" font-weight="bold" fill="#000" font-family='"Liberation Serif",serif' >3.2</text>
<text x="326.02" y="246.80" stroke="#000" stroke-width="0.12" font-size="4.14" text-anchor="middle" font-weight="bold" fill="#000" font-family='"Liberation Serif",serif' >x</text>
<text x="259.00" y="221.80" stroke="#000" stroke-width="0.12" font-size="4.14" text-anchor="middle" font-weight="bold" fill="#000" font-family='"Liberation Serif",serif' transform="rotate(-90 259 221.80)">y</text>
<text x="328.00" y="199.50" stroke="#000" stroke-width="0.06" font-size="4.15" text-anchor="middle" font-weight="bold" fill="#000" font-family='"Liberation Serif",serif' >AMDAD-ACU FD scheme</text>
<rect x="392.6" y="196.30" width="13.5" height="48.4" fill="#fff" stroke="#aaa" stroke-width="0.3"/>
<rect x="393.5" y="203.10" width="4.9" height="38.8" fill="url(#cbar)"/>
<text x="399.40" y="199.60" stroke="#000" stroke-width="0.05" font-size="2.85" text-anchor="middle" font-weight="bold" fill="#000" font-family='"Liberation Serif",serif'  textLength="9" lengthAdjust="spacingAndGlyphs">Density</text>
<text x="400.30" y="203.80" stroke="#000" stroke-width="0.12" font-size="3.17" text-anchor="start" font-weight="bold" fill="#000" font-family='"Liberation Serif",serif' >20</text>
<text x="400.30" y="208.06" stroke="#000" stroke-width="0.12" font-size="3.17" text-anchor="start" font-weight="bold" fill="#000" font-family='"Liberation Serif",serif' >18</text>
<text x="400.30" y="212.32" stroke="#000" stroke-width="0.12" font-size="3.17" text-anchor="start" font-weight="bold" fill="#000" font-family='"Liberation Serif",serif' >16</text>
<text x="400.30" y="216.58" stroke="#000" stroke-width="0.12" font-size="3.17" text-anchor="start" font-weight="bold" fill="#000" font-family='"Liberation Serif",serif' >14</text>
<text x="400.30" y="220.84" stroke="#000" stroke-width="0.12" font-size="3.17" text-anchor="start" font-weight="bold" fill="#000" font-family='"Liberation Serif",serif' >12</text>
<text x="400.30" y="225.10" stroke="#000" stroke-width="0.12" font-size="3.17" text-anchor="start" font-weight="bold" fill="#000" font-family='"Liberation Serif",serif' >10</text>
<text x="400.30" y="229.36" stroke="#000" stroke-width="0.12" font-size="3.17" text-anchor="start" font-weight="bold" fill="#000" font-family='"Liberation Serif",serif' >8</text>
<text x="400.30" y="233.62" stroke="#000" stroke-width="0.12" font-size="3.17" text-anchor="start" font-weight="bold" fill="#000" font-family='"Liberation Serif",serif' >6</text>
<text x="400.30" y="237.88" stroke="#000" stroke-width="0.12" font-size="3.17" text-anchor="start" font-weight="bold" fill="#000" font-family='"Liberation Serif",serif' >4</text>
<text x="400.30" y="242.14" stroke="#000" stroke-width="0.12" font-size="3.17" text-anchor="start" font-weight="bold" fill="#000" font-family='"Liberation Serif",serif' >2</text>
</svg>
<div class="a" id="title">High-order AMDAD-ACU Finite Difference Scheme</div>
<div class="a lab" id="lab1">(I) Spectral properties of AMDAD-ACU FD scheme</div>
<div class="a lab" id="lab2">(II) High-resolution in resolving flow structures</div>
<div class="a" id="cap">Minimized Dispersion and Adaptive Dissipation.</div>
</body></html>
